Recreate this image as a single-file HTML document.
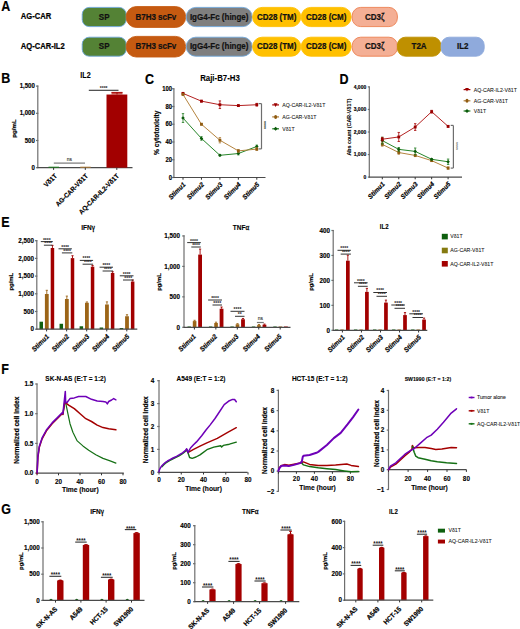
<!DOCTYPE html>
<html><head><meta charset="utf-8"><title>Figure</title>
<style>html,body{margin:0;padding:0;background:#fff;overflow:hidden;}svg{display:block;}text{font-family:"Liberation Sans", sans-serif;}</style>
</head><body>
<svg width="520" height="629" viewBox="0 0 520 629" font-family='"Liberation Sans", sans-serif'>
<rect x="0" y="0" width="520" height="629" fill="#fff"/>
<text x="1.30" y="11.00" font-size="14.88" text-anchor="start" font-weight="bold" fill="#000" stroke="#000" stroke-width="0.2" transform="translate(1.30 11.00) scale(0.84 1) translate(-1.30 -11.00)">A</text>
<text x="20.80" y="19.30" font-size="8.64" text-anchor="start" font-weight="bold" fill="#000" stroke="#000" stroke-width="0.22" transform="translate(20.80 19.30) scale(0.88 1) translate(-20.80 -19.30)">AG-CAR</text>
<text x="20.80" y="48.80" font-size="8.64" text-anchor="start" font-weight="bold" fill="#000" stroke="#000" stroke-width="0.22" transform="translate(20.80 48.80) scale(0.88 1) translate(-20.80 -48.80)">AQ-CAR-IL2</text>
<rect x="82.20" y="7.40" width="44.00" height="19.20" rx="7" ry="7" fill="#548235" stroke="#6FA8DC" stroke-width="0.9"/>
<text x="104.20" y="19.70" font-size="9.09" text-anchor="middle" font-weight="bold" fill="#111" stroke="#111" stroke-width="0.22" transform="translate(104.20 19.70) scale(0.88 1) translate(-104.20 -19.70)">SP</text>
<rect x="126.20" y="6.60" width="59.40" height="20.80" rx="10" ry="10" fill="#C55A11" stroke="#C55A11" stroke-width="0.9"/>
<text x="155.90" y="19.70" font-size="9.09" text-anchor="middle" font-weight="bold" fill="#111" stroke="#111" stroke-width="0.22" transform="translate(155.90 19.70) scale(0.88 1) translate(-155.90 -19.70)">B7H3 scFv</text>
<rect x="186.20" y="7.40" width="66.00" height="19.20" rx="9.5" ry="9.5" fill="#7F7F7F" stroke="#6FA8DC" stroke-width="0.9"/>
<text x="219.20" y="19.70" font-size="9.09" text-anchor="middle" font-weight="bold" fill="#111" stroke="#111" stroke-width="0.22" transform="translate(219.20 19.70) scale(0.88 1) translate(-219.20 -19.70)">IgG4-Fc (hinge)</text>
<rect x="252.60" y="7.40" width="48.20" height="19.20" rx="9.5" ry="9.5" fill="#FFC000" stroke="#FFC000" stroke-width="0.9"/>
<text x="276.70" y="19.70" font-size="9.09" text-anchor="middle" font-weight="bold" fill="#111" stroke="#111" stroke-width="0.22" transform="translate(276.70 19.70) scale(0.88 1) translate(-276.70 -19.70)">CD28 (TM)</text>
<rect x="301.20" y="7.40" width="50.00" height="19.20" rx="9.5" ry="9.5" fill="#FFC000" stroke="#FFC000" stroke-width="0.9"/>
<text x="326.20" y="19.70" font-size="9.09" text-anchor="middle" font-weight="bold" fill="#111" stroke="#111" stroke-width="0.22" transform="translate(326.20 19.70) scale(0.88 1) translate(-326.20 -19.70)">CD28 (CM)</text>
<rect x="352.20" y="7.40" width="45.20" height="19.20" rx="8.5" ry="8.5" fill="#F4AF95" stroke="#EC8050" stroke-width="0.9"/>
<text x="374.80" y="19.70" font-size="9.09" text-anchor="middle" font-weight="bold" fill="#111" stroke="#111" stroke-width="0.22" transform="translate(374.80 19.70) scale(0.88 1) translate(-374.80 -19.70)">CD3<tspan font-family="Liberation Serif" font-weight="normal" stroke-width="0.35" font-size="9.6">ζ</tspan></text>
<rect x="82.20" y="37.20" width="44.00" height="19.00" rx="7" ry="7" fill="#548235" stroke="#6FA8DC" stroke-width="0.9"/>
<text x="104.20" y="49.40" font-size="9.09" text-anchor="middle" font-weight="bold" fill="#111" stroke="#111" stroke-width="0.22" transform="translate(104.20 49.40) scale(0.88 1) translate(-104.20 -49.40)">SP</text>
<rect x="126.20" y="36.40" width="59.40" height="20.60" rx="10" ry="10" fill="#C55A11" stroke="#C55A11" stroke-width="0.9"/>
<text x="155.90" y="49.40" font-size="9.09" text-anchor="middle" font-weight="bold" fill="#111" stroke="#111" stroke-width="0.22" transform="translate(155.90 49.40) scale(0.88 1) translate(-155.90 -49.40)">B7H3 scFv</text>
<rect x="186.20" y="37.20" width="66.00" height="19.00" rx="9.5" ry="9.5" fill="#7F7F7F" stroke="#6FA8DC" stroke-width="0.9"/>
<text x="219.20" y="49.40" font-size="9.09" text-anchor="middle" font-weight="bold" fill="#111" stroke="#111" stroke-width="0.22" transform="translate(219.20 49.40) scale(0.88 1) translate(-219.20 -49.40)">IgG4-Fc (hinge)</text>
<rect x="252.60" y="37.20" width="48.20" height="19.00" rx="9.5" ry="9.5" fill="#FFC000" stroke="#FFC000" stroke-width="0.9"/>
<text x="276.70" y="49.40" font-size="9.09" text-anchor="middle" font-weight="bold" fill="#111" stroke="#111" stroke-width="0.22" transform="translate(276.70 49.40) scale(0.88 1) translate(-276.70 -49.40)">CD28 (TM)</text>
<rect x="301.20" y="37.20" width="50.00" height="19.00" rx="9.5" ry="9.5" fill="#FFC000" stroke="#FFC000" stroke-width="0.9"/>
<text x="326.20" y="49.40" font-size="9.09" text-anchor="middle" font-weight="bold" fill="#111" stroke="#111" stroke-width="0.22" transform="translate(326.20 49.40) scale(0.88 1) translate(-326.20 -49.40)">CD28 (CM)</text>
<rect x="352.20" y="37.20" width="45.20" height="19.00" rx="8.5" ry="8.5" fill="#F4AF95" stroke="#EC8050" stroke-width="0.9"/>
<text x="374.80" y="49.40" font-size="9.09" text-anchor="middle" font-weight="bold" fill="#111" stroke="#111" stroke-width="0.22" transform="translate(374.80 49.40) scale(0.88 1) translate(-374.80 -49.40)">CD3<tspan font-family="Liberation Serif" font-weight="normal" stroke-width="0.35" font-size="9.6">ζ</tspan></text>
<rect x="397.40" y="37.20" width="43.40" height="19.00" rx="8" ry="8" fill="#BF9000" stroke="#BF9000" stroke-width="0.9"/>
<text x="419.10" y="49.40" font-size="9.09" text-anchor="middle" font-weight="bold" fill="#111" stroke="#111" stroke-width="0.22" transform="translate(419.10 49.40) scale(0.88 1) translate(-419.10 -49.40)">T2A</text>
<rect x="441.20" y="37.20" width="43.00" height="19.00" rx="8" ry="8" fill="#8FAADC" stroke="#8FAADC" stroke-width="0.9"/>
<text x="462.70" y="49.40" font-size="9.09" text-anchor="middle" font-weight="bold" fill="#111" stroke="#111" stroke-width="0.22" transform="translate(462.70 49.40) scale(0.88 1) translate(-462.70 -49.40)">IL2</text>
<text x="1.30" y="83.50" font-size="14.88" text-anchor="start" font-weight="bold" fill="#000" stroke="#000" stroke-width="0.2" transform="translate(1.30 83.50) scale(0.84 1) translate(-1.30 -83.50)">B</text>
<text x="85.50" y="77.90" font-size="8.18" text-anchor="middle" font-weight="bold" fill="#000" stroke="#000" stroke-width="0.1" transform="translate(85.50 77.90) scale(0.88 1) translate(-85.50 -77.90)">IL2</text>
<line x1="37.80" y1="85.50" x2="37.80" y2="167.70" stroke="#6e6e6e" stroke-width="1.2"/>
<line x1="36.00" y1="167.70" x2="38.30" y2="167.70" stroke="#6e6e6e" stroke-width="1.2"/>
<text x="34.90" y="169.90" font-size="6.93" text-anchor="end" font-weight="bold" fill="#000" stroke="#000" stroke-width="0.16" transform="translate(34.90 169.90) scale(0.88 1) translate(-34.90 -169.90)">0</text>
<line x1="36.00" y1="140.50" x2="38.30" y2="140.50" stroke="#6e6e6e" stroke-width="1.2"/>
<text x="34.90" y="142.70" font-size="6.93" text-anchor="end" font-weight="bold" fill="#000" stroke="#000" stroke-width="0.16" transform="translate(34.90 142.70) scale(0.88 1) translate(-34.90 -142.70)">500</text>
<line x1="36.00" y1="113.30" x2="38.30" y2="113.30" stroke="#6e6e6e" stroke-width="1.2"/>
<text x="34.90" y="115.50" font-size="6.93" text-anchor="end" font-weight="bold" fill="#000" stroke="#000" stroke-width="0.16" transform="translate(34.90 115.50) scale(0.88 1) translate(-34.90 -115.50)">1,000</text>
<line x1="36.00" y1="86.10" x2="38.30" y2="86.10" stroke="#6e6e6e" stroke-width="1.2"/>
<text x="34.90" y="88.30" font-size="6.93" text-anchor="end" font-weight="bold" fill="#000" stroke="#000" stroke-width="0.16" transform="translate(34.90 88.30) scale(0.88 1) translate(-34.90 -88.30)">1,500</text>
<line x1="37.30" y1="167.70" x2="132.50" y2="167.70" stroke="#4a4a4a" stroke-width="1.2"/>
<rect x="48.50" y="166.70" width="10.50" height="1.10" fill="#1E7A1E"/>
<rect x="80.20" y="166.70" width="10.50" height="1.10" fill="#AC7B38"/>
<rect x="106.50" y="94.53" width="20.80" height="73.17" fill="#A20000"/>
<rect x="111.50" y="92.00" width="11.00" height="2.73" fill="#C8504A"/>
<line x1="111.50" y1="92.40" x2="122.50" y2="92.40" stroke="#A20000" stroke-width="0.8"/>
<line x1="117.00" y1="92.40" x2="117.00" y2="94.53" stroke="#A20000" stroke-width="0.9"/>
<line x1="88.80" y1="90.30" x2="118.50" y2="90.30" stroke="#333" stroke-width="1.1"/>
<text x="103.65" y="89.60" font-size="5.68" text-anchor="middle" font-weight="bold" fill="#222" transform="translate(103.65 89.60) scale(0.88 1) translate(-103.65 -89.60)">****</text>
<line x1="53.80" y1="163.10" x2="85.00" y2="163.10" stroke="#777" stroke-width="1.2"/>
<text x="69.40" y="160.90" font-size="5.68" text-anchor="middle" font-weight="normal" fill="#111" stroke="#111" stroke-width="0.08" transform="translate(69.40 160.90) scale(0.88 1) translate(-69.40 -160.90)">ns</text>
<line x1="53.60" y1="167.70" x2="53.60" y2="169.90" stroke="#333" stroke-width="1.0"/>
<line x1="85.30" y1="167.70" x2="85.30" y2="169.90" stroke="#333" stroke-width="1.0"/>
<line x1="116.80" y1="167.70" x2="116.80" y2="169.90" stroke="#333" stroke-width="1.0"/>
<text x="16.10" y="128.50" font-size="6.1" text-anchor="middle" font-weight="bold" fill="#000" stroke="#000" stroke-width="0.18" transform="translate(16.10 128.50) rotate(-90) translate(-16.10 -128.50)">pg/mL</text>
<text x="57.50" y="176.60" font-size="6.7" text-anchor="end" font-weight="bold" fill="#000" stroke="#000" stroke-width="0.2" transform="translate(57.50 176.60) rotate(-45) scale(0.94 1) translate(-57.50 -176.60)">Vδ1T</text>
<text x="88.50" y="176.60" font-size="6.7" text-anchor="end" font-weight="bold" fill="#000" stroke="#000" stroke-width="0.2" transform="translate(88.50 176.60) rotate(-45) scale(0.94 1) translate(-88.50 -176.60)">AG-CAR-Vδ1T</text>
<text x="119.50" y="176.60" font-size="6.7" text-anchor="end" font-weight="bold" fill="#000" stroke="#000" stroke-width="0.2" transform="translate(119.50 176.60) rotate(-45) scale(0.94 1) translate(-119.50 -176.60)">AQ-CAR-IL2-Vδ1T</text>
<text x="145.00" y="83.80" font-size="14.88" text-anchor="start" font-weight="bold" fill="#000" stroke="#000" stroke-width="0.2" transform="translate(145.00 83.80) scale(0.84 1) translate(-145.00 -83.80)">C</text>
<text x="220.00" y="81.50" font-size="8.92" text-anchor="middle" font-weight="bold" fill="#000" stroke="#000" stroke-width="0.1" transform="translate(220.00 81.50) scale(0.88 1) translate(-220.00 -81.50)">Raji-B7-H3</text>
<line x1="173.90" y1="88.50" x2="173.90" y2="177.50" stroke="#6e6e6e" stroke-width="1.2"/>
<line x1="172.10" y1="177.50" x2="174.40" y2="177.50" stroke="#6e6e6e" stroke-width="1.2"/>
<text x="172.00" y="179.62" font-size="6.7" text-anchor="end" font-weight="bold" fill="#000" stroke="#000" stroke-width="0.16" transform="translate(172.00 179.62) scale(0.88 1) translate(-172.00 -179.62)">0</text>
<line x1="172.10" y1="159.75" x2="174.40" y2="159.75" stroke="#6e6e6e" stroke-width="1.2"/>
<text x="172.00" y="161.87" font-size="6.7" text-anchor="end" font-weight="bold" fill="#000" stroke="#000" stroke-width="0.16" transform="translate(172.00 161.87) scale(0.88 1) translate(-172.00 -161.87)">20</text>
<line x1="172.10" y1="142.00" x2="174.40" y2="142.00" stroke="#6e6e6e" stroke-width="1.2"/>
<text x="172.00" y="144.12" font-size="6.7" text-anchor="end" font-weight="bold" fill="#000" stroke="#000" stroke-width="0.16" transform="translate(172.00 144.12) scale(0.88 1) translate(-172.00 -144.12)">40</text>
<line x1="172.10" y1="124.25" x2="174.40" y2="124.25" stroke="#6e6e6e" stroke-width="1.2"/>
<text x="172.00" y="126.37" font-size="6.7" text-anchor="end" font-weight="bold" fill="#000" stroke="#000" stroke-width="0.16" transform="translate(172.00 126.37) scale(0.88 1) translate(-172.00 -126.37)">60</text>
<line x1="172.10" y1="106.50" x2="174.40" y2="106.50" stroke="#6e6e6e" stroke-width="1.2"/>
<text x="172.00" y="108.62" font-size="6.7" text-anchor="end" font-weight="bold" fill="#000" stroke="#000" stroke-width="0.16" transform="translate(172.00 108.62) scale(0.88 1) translate(-172.00 -108.62)">80</text>
<line x1="172.10" y1="88.75" x2="174.40" y2="88.75" stroke="#6e6e6e" stroke-width="1.2"/>
<text x="172.00" y="90.87" font-size="6.7" text-anchor="end" font-weight="bold" fill="#000" stroke="#000" stroke-width="0.16" transform="translate(172.00 90.87) scale(0.88 1) translate(-172.00 -90.87)">100</text>
<line x1="173.40" y1="177.50" x2="265.50" y2="177.50" stroke="#4a4a4a" stroke-width="1.2"/>
<line x1="183.00" y1="177.50" x2="183.00" y2="179.70" stroke="#333" stroke-width="1.0"/>
<line x1="201.45" y1="177.50" x2="201.45" y2="179.70" stroke="#333" stroke-width="1.0"/>
<line x1="219.90" y1="177.50" x2="219.90" y2="179.70" stroke="#333" stroke-width="1.0"/>
<line x1="238.35" y1="177.50" x2="238.35" y2="179.70" stroke="#333" stroke-width="1.0"/>
<line x1="256.80" y1="177.50" x2="256.80" y2="179.70" stroke="#333" stroke-width="1.0"/>
<path d="M183.00,118.04 L201.45,138.45 L219.90,155.31 L238.35,153.54 L256.80,146.44" fill="none" stroke="#27862A" stroke-width="1.0" stroke-linejoin="round" stroke-linecap="round"/>
<line x1="183.00" y1="113.60" x2="183.00" y2="122.47" stroke="#1E7A1E" stroke-width="0.8"/>
<line x1="181.80" y1="113.60" x2="184.20" y2="113.60" stroke="#1E7A1E" stroke-width="0.8"/>
<line x1="181.80" y1="122.47" x2="184.20" y2="122.47" stroke="#1E7A1E" stroke-width="0.8"/>
<path d="M183.00,116.24 L184.80,118.04 L183.00,119.84 L181.20,118.04Z" fill="#0B5A0B"/>
<line x1="201.45" y1="136.67" x2="201.45" y2="140.22" stroke="#1E7A1E" stroke-width="0.8"/>
<line x1="200.25" y1="136.67" x2="202.65" y2="136.67" stroke="#1E7A1E" stroke-width="0.8"/>
<line x1="200.25" y1="140.22" x2="202.65" y2="140.22" stroke="#1E7A1E" stroke-width="0.8"/>
<path d="M201.45,136.65 L203.25,138.45 L201.45,140.25 L199.65,138.45Z" fill="#0B5A0B"/>
<line x1="219.90" y1="154.60" x2="219.90" y2="156.02" stroke="#1E7A1E" stroke-width="0.8"/>
<line x1="218.70" y1="154.60" x2="221.10" y2="154.60" stroke="#1E7A1E" stroke-width="0.8"/>
<line x1="218.70" y1="156.02" x2="221.10" y2="156.02" stroke="#1E7A1E" stroke-width="0.8"/>
<path d="M219.90,153.51 L221.70,155.31 L219.90,157.11 L218.10,155.31Z" fill="#0B5A0B"/>
<line x1="238.35" y1="152.21" x2="238.35" y2="154.87" stroke="#1E7A1E" stroke-width="0.8"/>
<line x1="237.15" y1="152.21" x2="239.55" y2="152.21" stroke="#1E7A1E" stroke-width="0.8"/>
<line x1="237.15" y1="154.87" x2="239.55" y2="154.87" stroke="#1E7A1E" stroke-width="0.8"/>
<path d="M238.35,151.74 L240.15,153.54 L238.35,155.34 L236.55,153.54Z" fill="#0B5A0B"/>
<line x1="256.80" y1="145.11" x2="256.80" y2="147.77" stroke="#1E7A1E" stroke-width="0.8"/>
<line x1="255.60" y1="145.11" x2="258.00" y2="145.11" stroke="#1E7A1E" stroke-width="0.8"/>
<line x1="255.60" y1="147.77" x2="258.00" y2="147.77" stroke="#1E7A1E" stroke-width="0.8"/>
<path d="M256.80,144.64 L258.60,146.44 L256.80,148.24 L255.00,146.44Z" fill="#0B5A0B"/>
<path d="M183.00,93.37 L201.45,101.17 L219.90,104.73 L238.35,105.61 L256.80,104.73" fill="none" stroke="#B42222" stroke-width="1.0" stroke-linejoin="round" stroke-linecap="round"/>
<line x1="183.00" y1="92.48" x2="183.00" y2="94.25" stroke="#A40000" stroke-width="0.8"/>
<line x1="181.80" y1="92.48" x2="184.20" y2="92.48" stroke="#A40000" stroke-width="0.8"/>
<line x1="181.80" y1="94.25" x2="184.20" y2="94.25" stroke="#A40000" stroke-width="0.8"/>
<rect x="181.60" y="91.97" width="2.80" height="2.80" fill="#9A0000"/>
<line x1="201.45" y1="100.29" x2="201.45" y2="102.06" stroke="#A40000" stroke-width="0.8"/>
<line x1="200.25" y1="100.29" x2="202.65" y2="100.29" stroke="#A40000" stroke-width="0.8"/>
<line x1="200.25" y1="102.06" x2="202.65" y2="102.06" stroke="#A40000" stroke-width="0.8"/>
<rect x="200.05" y="99.77" width="2.80" height="2.80" fill="#9A0000"/>
<line x1="219.90" y1="100.91" x2="219.90" y2="108.54" stroke="#A40000" stroke-width="0.8"/>
<line x1="218.70" y1="100.91" x2="221.10" y2="100.91" stroke="#A40000" stroke-width="0.8"/>
<line x1="218.70" y1="108.54" x2="221.10" y2="108.54" stroke="#A40000" stroke-width="0.8"/>
<rect x="218.50" y="103.33" width="2.80" height="2.80" fill="#9A0000"/>
<line x1="238.35" y1="104.72" x2="238.35" y2="106.50" stroke="#A40000" stroke-width="0.8"/>
<line x1="237.15" y1="104.72" x2="239.55" y2="104.72" stroke="#A40000" stroke-width="0.8"/>
<line x1="237.15" y1="106.50" x2="239.55" y2="106.50" stroke="#A40000" stroke-width="0.8"/>
<rect x="236.95" y="104.21" width="2.80" height="2.80" fill="#9A0000"/>
<line x1="256.80" y1="103.39" x2="256.80" y2="106.06" stroke="#A40000" stroke-width="0.8"/>
<line x1="255.60" y1="103.39" x2="258.00" y2="103.39" stroke="#A40000" stroke-width="0.8"/>
<line x1="255.60" y1="106.06" x2="258.00" y2="106.06" stroke="#A40000" stroke-width="0.8"/>
<rect x="255.40" y="103.33" width="2.80" height="2.80" fill="#9A0000"/>
<path d="M183.00,94.43 L201.45,124.25 L219.90,140.22 L238.35,150.88 L256.80,149.10" fill="none" stroke="#B5843F" stroke-width="1.0" stroke-linejoin="round" stroke-linecap="round"/>
<line x1="183.00" y1="93.54" x2="183.00" y2="95.32" stroke="#AC7B38" stroke-width="0.8"/>
<line x1="181.80" y1="93.54" x2="184.20" y2="93.54" stroke="#AC7B38" stroke-width="0.8"/>
<line x1="181.80" y1="95.32" x2="184.20" y2="95.32" stroke="#AC7B38" stroke-width="0.8"/>
<rect x="181.60" y="93.03" width="2.80" height="2.80" fill="#8F5B10"/>
<line x1="201.45" y1="123.36" x2="201.45" y2="125.14" stroke="#AC7B38" stroke-width="0.8"/>
<line x1="200.25" y1="123.36" x2="202.65" y2="123.36" stroke="#AC7B38" stroke-width="0.8"/>
<line x1="200.25" y1="125.14" x2="202.65" y2="125.14" stroke="#AC7B38" stroke-width="0.8"/>
<rect x="200.05" y="122.85" width="2.80" height="2.80" fill="#8F5B10"/>
<line x1="219.90" y1="137.56" x2="219.90" y2="142.89" stroke="#AC7B38" stroke-width="0.8"/>
<line x1="218.70" y1="137.56" x2="221.10" y2="137.56" stroke="#AC7B38" stroke-width="0.8"/>
<line x1="218.70" y1="142.89" x2="221.10" y2="142.89" stroke="#AC7B38" stroke-width="0.8"/>
<rect x="218.50" y="138.82" width="2.80" height="2.80" fill="#8F5B10"/>
<line x1="238.35" y1="149.54" x2="238.35" y2="152.21" stroke="#AC7B38" stroke-width="0.8"/>
<line x1="237.15" y1="149.54" x2="239.55" y2="149.54" stroke="#AC7B38" stroke-width="0.8"/>
<line x1="237.15" y1="152.21" x2="239.55" y2="152.21" stroke="#AC7B38" stroke-width="0.8"/>
<rect x="236.95" y="149.47" width="2.80" height="2.80" fill="#8F5B10"/>
<line x1="256.80" y1="147.77" x2="256.80" y2="150.43" stroke="#AC7B38" stroke-width="0.8"/>
<line x1="255.60" y1="147.77" x2="258.00" y2="147.77" stroke="#AC7B38" stroke-width="0.8"/>
<line x1="255.60" y1="150.43" x2="258.00" y2="150.43" stroke="#AC7B38" stroke-width="0.8"/>
<rect x="255.40" y="147.70" width="2.80" height="2.80" fill="#8F5B10"/>
<line x1="261.50" y1="103.60" x2="261.50" y2="148.90" stroke="#6e6e6e" stroke-width="1.2"/>
<line x1="258.60" y1="103.60" x2="261.50" y2="103.60" stroke="#6e6e6e" stroke-width="1.2"/>
<line x1="258.60" y1="148.90" x2="261.50" y2="148.90" stroke="#6e6e6e" stroke-width="1.2"/>
<text x="262.00" y="125.00" font-size="5.0" text-anchor="middle" font-weight="bold" fill="#222" transform="translate(262.00 125.00) rotate(90) translate(-262.00 -125.00)">****</text>
<text x="158.90" y="132.80" font-size="6.6" text-anchor="middle" font-weight="bold" fill="#000" stroke="#000" stroke-width="0.18" transform="translate(158.90 132.80) rotate(-90) translate(-158.90 -132.80)">% cytotoxicity</text>
<text x="186.00" y="185.10" font-size="6.7" text-anchor="end" font-weight="bold" fill="#000" font-style="italic" stroke="#000" stroke-width="0.2" transform="translate(186.00 185.10) rotate(-45) scale(0.94 1) translate(-186.00 -185.10)">Stimu1</text>
<text x="204.45" y="185.10" font-size="6.7" text-anchor="end" font-weight="bold" fill="#000" font-style="italic" stroke="#000" stroke-width="0.2" transform="translate(204.45 185.10) rotate(-45) scale(0.94 1) translate(-204.45 -185.10)">Stimu2</text>
<text x="222.90" y="185.10" font-size="6.7" text-anchor="end" font-weight="bold" fill="#000" font-style="italic" stroke="#000" stroke-width="0.2" transform="translate(222.90 185.10) rotate(-45) scale(0.94 1) translate(-222.90 -185.10)">Stimu3</text>
<text x="241.35" y="185.10" font-size="6.7" text-anchor="end" font-weight="bold" fill="#000" font-style="italic" stroke="#000" stroke-width="0.2" transform="translate(241.35 185.10) rotate(-45) scale(0.94 1) translate(-241.35 -185.10)">Stimu4</text>
<text x="259.80" y="185.10" font-size="6.7" text-anchor="end" font-weight="bold" fill="#000" font-style="italic" stroke="#000" stroke-width="0.2" transform="translate(259.80 185.10) rotate(-45) scale(0.94 1) translate(-259.80 -185.10)">Stimu5</text>
<line x1="272.20" y1="104.90" x2="279.00" y2="104.90" stroke="#A40000" stroke-width="1.2"/>
<path d="M275.60,106.90 L277.50,103.30 L273.70,103.30Z" fill="#9A0000"/>
<text x="282.20" y="106.90" font-size="5.91" text-anchor="start" font-weight="normal" fill="#111" stroke="#111" stroke-width="0.08" transform="translate(282.20 106.90) scale(0.88 1) translate(-282.20 -106.90)">AQ-CAR-IL2-Vδ1T</text>
<line x1="272.20" y1="116.90" x2="279.00" y2="116.90" stroke="#AC7B38" stroke-width="1.2"/>
<ellipse cx="275.60" cy="116.90" rx="1.5" ry="2.0" fill="#8F5B10"/>
<text x="282.20" y="118.90" font-size="5.91" text-anchor="start" font-weight="normal" fill="#111" stroke="#111" stroke-width="0.08" transform="translate(282.20 118.90) scale(0.88 1) translate(-282.20 -118.90)">AG-CAR-Vδ1T</text>
<line x1="272.20" y1="128.80" x2="279.00" y2="128.80" stroke="#1E7A1E" stroke-width="1.2"/>
<path d="M275.60,126.80 L277.60,128.80 L275.60,130.80 L273.60,128.80Z" fill="#0B5A0B"/>
<text x="282.20" y="130.80" font-size="5.91" text-anchor="start" font-weight="normal" fill="#111" stroke="#111" stroke-width="0.08" transform="translate(282.20 130.80) scale(0.88 1) translate(-282.20 -130.80)">Vδ1T</text>
<text x="339.60" y="83.80" font-size="14.88" text-anchor="start" font-weight="bold" fill="#000" stroke="#000" stroke-width="0.2" transform="translate(339.60 83.80) scale(0.84 1) translate(-339.60 -83.80)">D</text>
<line x1="369.30" y1="86.50" x2="369.30" y2="177.10" stroke="#6e6e6e" stroke-width="1.2"/>
<line x1="367.80" y1="177.10" x2="369.80" y2="177.10" stroke="#6e6e6e" stroke-width="1.2"/>
<text x="366.20" y="178.90" font-size="5.68" text-anchor="end" font-weight="bold" fill="#000" stroke="#000" stroke-width="0.16" transform="translate(366.20 178.90) scale(0.88 1) translate(-366.20 -178.90)">0</text>
<line x1="367.80" y1="154.55" x2="369.80" y2="154.55" stroke="#6e6e6e" stroke-width="1.2"/>
<text x="366.20" y="156.35" font-size="5.68" text-anchor="end" font-weight="bold" fill="#000" stroke="#000" stroke-width="0.16" transform="translate(366.20 156.35) scale(0.88 1) translate(-366.20 -156.35)">1,000</text>
<line x1="367.80" y1="132.00" x2="369.80" y2="132.00" stroke="#6e6e6e" stroke-width="1.2"/>
<text x="366.20" y="133.80" font-size="5.68" text-anchor="end" font-weight="bold" fill="#000" stroke="#000" stroke-width="0.16" transform="translate(366.20 133.80) scale(0.88 1) translate(-366.20 -133.80)">2,000</text>
<line x1="367.80" y1="109.45" x2="369.80" y2="109.45" stroke="#6e6e6e" stroke-width="1.2"/>
<text x="366.20" y="111.25" font-size="5.68" text-anchor="end" font-weight="bold" fill="#000" stroke="#000" stroke-width="0.16" transform="translate(366.20 111.25) scale(0.88 1) translate(-366.20 -111.25)">3,000</text>
<line x1="367.80" y1="86.90" x2="369.80" y2="86.90" stroke="#6e6e6e" stroke-width="1.2"/>
<text x="366.20" y="88.70" font-size="5.68" text-anchor="end" font-weight="bold" fill="#000" stroke="#000" stroke-width="0.16" transform="translate(366.20 88.70) scale(0.88 1) translate(-366.20 -88.70)">4,000</text>
<line x1="368.80" y1="177.10" x2="462.00" y2="177.10" stroke="#4a4a4a" stroke-width="1.2"/>
<line x1="382.30" y1="177.10" x2="382.30" y2="179.30" stroke="#333" stroke-width="1.0"/>
<line x1="398.75" y1="177.10" x2="398.75" y2="179.30" stroke="#333" stroke-width="1.0"/>
<line x1="415.20" y1="177.10" x2="415.20" y2="179.30" stroke="#333" stroke-width="1.0"/>
<line x1="431.65" y1="177.10" x2="431.65" y2="179.30" stroke="#333" stroke-width="1.0"/>
<line x1="448.10" y1="177.10" x2="448.10" y2="179.30" stroke="#333" stroke-width="1.0"/>
<path d="M382.30,144.40 L398.75,152.52 L415.20,155.45 L431.65,160.64 L448.10,168.08" fill="none" stroke="#B5843F" stroke-width="1.0" stroke-linejoin="round" stroke-linecap="round"/>
<line x1="382.30" y1="142.60" x2="382.30" y2="146.21" stroke="#AC7B38" stroke-width="0.8"/>
<line x1="381.10" y1="142.60" x2="383.50" y2="142.60" stroke="#AC7B38" stroke-width="0.8"/>
<line x1="381.10" y1="146.21" x2="383.50" y2="146.21" stroke="#AC7B38" stroke-width="0.8"/>
<rect x="380.90" y="143.00" width="2.80" height="2.80" fill="#8F5B10"/>
<line x1="398.75" y1="150.72" x2="398.75" y2="154.32" stroke="#AC7B38" stroke-width="0.8"/>
<line x1="397.55" y1="150.72" x2="399.95" y2="150.72" stroke="#AC7B38" stroke-width="0.8"/>
<line x1="397.55" y1="154.32" x2="399.95" y2="154.32" stroke="#AC7B38" stroke-width="0.8"/>
<rect x="397.35" y="151.12" width="2.80" height="2.80" fill="#8F5B10"/>
<line x1="415.20" y1="154.32" x2="415.20" y2="156.58" stroke="#AC7B38" stroke-width="0.8"/>
<line x1="414.00" y1="154.32" x2="416.40" y2="154.32" stroke="#AC7B38" stroke-width="0.8"/>
<line x1="414.00" y1="156.58" x2="416.40" y2="156.58" stroke="#AC7B38" stroke-width="0.8"/>
<rect x="413.80" y="154.05" width="2.80" height="2.80" fill="#8F5B10"/>
<line x1="431.65" y1="159.96" x2="431.65" y2="161.31" stroke="#AC7B38" stroke-width="0.8"/>
<line x1="430.45" y1="159.96" x2="432.85" y2="159.96" stroke="#AC7B38" stroke-width="0.8"/>
<line x1="430.45" y1="161.31" x2="432.85" y2="161.31" stroke="#AC7B38" stroke-width="0.8"/>
<rect x="430.25" y="159.24" width="2.80" height="2.80" fill="#8F5B10"/>
<line x1="448.10" y1="166.95" x2="448.10" y2="169.21" stroke="#AC7B38" stroke-width="0.8"/>
<line x1="446.90" y1="166.95" x2="449.30" y2="166.95" stroke="#AC7B38" stroke-width="0.8"/>
<line x1="446.90" y1="169.21" x2="449.30" y2="169.21" stroke="#AC7B38" stroke-width="0.8"/>
<rect x="446.70" y="166.68" width="2.80" height="2.80" fill="#8F5B10"/>
<path d="M382.30,140.57 L398.75,149.36 L415.20,151.39 L431.65,159.29 L448.10,161.77" fill="none" stroke="#27862A" stroke-width="1.0" stroke-linejoin="round" stroke-linecap="round"/>
<line x1="382.30" y1="137.19" x2="382.30" y2="143.95" stroke="#1E7A1E" stroke-width="0.8"/>
<line x1="381.10" y1="137.19" x2="383.50" y2="137.19" stroke="#1E7A1E" stroke-width="0.8"/>
<line x1="381.10" y1="143.95" x2="383.50" y2="143.95" stroke="#1E7A1E" stroke-width="0.8"/>
<path d="M382.30,138.77 L384.10,140.57 L382.30,142.37 L380.50,140.57Z" fill="#0B5A0B"/>
<line x1="398.75" y1="147.56" x2="398.75" y2="151.17" stroke="#1E7A1E" stroke-width="0.8"/>
<line x1="397.55" y1="147.56" x2="399.95" y2="147.56" stroke="#1E7A1E" stroke-width="0.8"/>
<line x1="397.55" y1="151.17" x2="399.95" y2="151.17" stroke="#1E7A1E" stroke-width="0.8"/>
<path d="M398.75,147.56 L400.55,149.36 L398.75,151.16 L396.95,149.36Z" fill="#0B5A0B"/>
<line x1="415.20" y1="148.01" x2="415.20" y2="154.78" stroke="#1E7A1E" stroke-width="0.8"/>
<line x1="414.00" y1="148.01" x2="416.40" y2="148.01" stroke="#1E7A1E" stroke-width="0.8"/>
<line x1="414.00" y1="154.78" x2="416.40" y2="154.78" stroke="#1E7A1E" stroke-width="0.8"/>
<path d="M415.20,149.59 L417.00,151.39 L415.20,153.19 L413.40,151.39Z" fill="#0B5A0B"/>
<line x1="431.65" y1="158.61" x2="431.65" y2="159.96" stroke="#1E7A1E" stroke-width="0.8"/>
<line x1="430.45" y1="158.61" x2="432.85" y2="158.61" stroke="#1E7A1E" stroke-width="0.8"/>
<line x1="430.45" y1="159.96" x2="432.85" y2="159.96" stroke="#1E7A1E" stroke-width="0.8"/>
<path d="M431.65,157.49 L433.45,159.29 L431.65,161.09 L429.85,159.29Z" fill="#0B5A0B"/>
<line x1="448.10" y1="159.06" x2="448.10" y2="164.47" stroke="#1E7A1E" stroke-width="0.8"/>
<line x1="446.90" y1="159.06" x2="449.30" y2="159.06" stroke="#1E7A1E" stroke-width="0.8"/>
<line x1="446.90" y1="164.47" x2="449.30" y2="164.47" stroke="#1E7A1E" stroke-width="0.8"/>
<path d="M448.10,159.97 L449.90,161.77 L448.10,163.57 L446.30,161.77Z" fill="#0B5A0B"/>
<path d="M382.30,139.22 L398.75,136.96 L415.20,127.04 L431.65,111.70 L448.10,126.36" fill="none" stroke="#B42222" stroke-width="1.0" stroke-linejoin="round" stroke-linecap="round"/>
<line x1="382.30" y1="137.41" x2="382.30" y2="141.02" stroke="#A40000" stroke-width="0.8"/>
<line x1="381.10" y1="137.41" x2="383.50" y2="137.41" stroke="#A40000" stroke-width="0.8"/>
<line x1="381.10" y1="141.02" x2="383.50" y2="141.02" stroke="#A40000" stroke-width="0.8"/>
<rect x="380.90" y="137.82" width="2.80" height="2.80" fill="#9A0000"/>
<line x1="398.75" y1="132.45" x2="398.75" y2="141.47" stroke="#A40000" stroke-width="0.8"/>
<line x1="397.55" y1="132.45" x2="399.95" y2="132.45" stroke="#A40000" stroke-width="0.8"/>
<line x1="397.55" y1="141.47" x2="399.95" y2="141.47" stroke="#A40000" stroke-width="0.8"/>
<rect x="397.35" y="135.56" width="2.80" height="2.80" fill="#9A0000"/>
<line x1="415.20" y1="123.66" x2="415.20" y2="130.42" stroke="#A40000" stroke-width="0.8"/>
<line x1="414.00" y1="123.66" x2="416.40" y2="123.66" stroke="#A40000" stroke-width="0.8"/>
<line x1="414.00" y1="130.42" x2="416.40" y2="130.42" stroke="#A40000" stroke-width="0.8"/>
<rect x="413.80" y="125.64" width="2.80" height="2.80" fill="#9A0000"/>
<line x1="431.65" y1="110.35" x2="431.65" y2="113.06" stroke="#A40000" stroke-width="0.8"/>
<line x1="430.45" y1="110.35" x2="432.85" y2="110.35" stroke="#A40000" stroke-width="0.8"/>
<line x1="430.45" y1="113.06" x2="432.85" y2="113.06" stroke="#A40000" stroke-width="0.8"/>
<rect x="430.25" y="110.30" width="2.80" height="2.80" fill="#9A0000"/>
<line x1="448.10" y1="125.46" x2="448.10" y2="127.26" stroke="#A40000" stroke-width="0.8"/>
<line x1="446.90" y1="125.46" x2="449.30" y2="125.46" stroke="#A40000" stroke-width="0.8"/>
<line x1="446.90" y1="127.26" x2="449.30" y2="127.26" stroke="#A40000" stroke-width="0.8"/>
<rect x="446.70" y="124.96" width="2.80" height="2.80" fill="#9A0000"/>
<line x1="453.40" y1="125.40" x2="453.40" y2="168.10" stroke="#6e6e6e" stroke-width="1.2"/>
<line x1="450.70" y1="125.40" x2="453.40" y2="125.40" stroke="#6e6e6e" stroke-width="1.2"/>
<line x1="450.70" y1="168.10" x2="453.40" y2="168.10" stroke="#6e6e6e" stroke-width="1.2"/>
<text x="454.00" y="146.00" font-size="5.0" text-anchor="middle" font-weight="normal" fill="#555" transform="translate(454.00 146.00) rotate(90) translate(-454.00 -146.00)">****</text>
<text x="350.60" y="127.00" font-size="5.3" text-anchor="middle" font-weight="bold" fill="#000" stroke="#000" stroke-width="0.08" transform="translate(350.60 127.00) rotate(-90) translate(-350.60 -127.00)">Abs count (CAR-Vδ1T)</text>
<text x="385.30" y="184.60" font-size="6.7" text-anchor="end" font-weight="bold" fill="#000" font-style="italic" stroke="#000" stroke-width="0.2" transform="translate(385.30 184.60) rotate(-45) scale(0.94 1) translate(-385.30 -184.60)">Stimu1</text>
<text x="401.75" y="184.60" font-size="6.7" text-anchor="end" font-weight="bold" fill="#000" font-style="italic" stroke="#000" stroke-width="0.2" transform="translate(401.75 184.60) rotate(-45) scale(0.94 1) translate(-401.75 -184.60)">Stimu2</text>
<text x="418.20" y="184.60" font-size="6.7" text-anchor="end" font-weight="bold" fill="#000" font-style="italic" stroke="#000" stroke-width="0.2" transform="translate(418.20 184.60) rotate(-45) scale(0.94 1) translate(-418.20 -184.60)">Stimu3</text>
<text x="434.65" y="184.60" font-size="6.7" text-anchor="end" font-weight="bold" fill="#000" font-style="italic" stroke="#000" stroke-width="0.2" transform="translate(434.65 184.60) rotate(-45) scale(0.94 1) translate(-434.65 -184.60)">Stimu4</text>
<text x="451.10" y="184.60" font-size="6.7" text-anchor="end" font-weight="bold" fill="#000" font-style="italic" stroke="#000" stroke-width="0.2" transform="translate(451.10 184.60) rotate(-45) scale(0.94 1) translate(-451.10 -184.60)">Stimu5</text>
<line x1="463.60" y1="89.60" x2="470.40" y2="89.60" stroke="#A40000" stroke-width="1.2"/>
<path d="M467.00,91.60 L468.90,88.00 L465.10,88.00Z" fill="#9A0000"/>
<text x="473.70" y="91.60" font-size="5.91" text-anchor="start" font-weight="normal" fill="#111" stroke="#111" stroke-width="0.08" transform="translate(473.70 91.60) scale(0.88 1) translate(-473.70 -91.60)">AQ-CAR-IL2-Vδ1T</text>
<line x1="463.60" y1="100.80" x2="470.40" y2="100.80" stroke="#AC7B38" stroke-width="1.2"/>
<ellipse cx="467.00" cy="100.80" rx="1.5" ry="2.0" fill="#8F5B10"/>
<text x="473.70" y="102.80" font-size="5.91" text-anchor="start" font-weight="normal" fill="#111" stroke="#111" stroke-width="0.08" transform="translate(473.70 102.80) scale(0.88 1) translate(-473.70 -102.80)">AG-CAR-Vδ1T</text>
<line x1="463.60" y1="111.00" x2="470.40" y2="111.00" stroke="#1E7A1E" stroke-width="1.2"/>
<path d="M467.00,109.00 L469.00,111.00 L467.00,113.00 L465.00,111.00Z" fill="#0B5A0B"/>
<text x="473.70" y="113.00" font-size="5.91" text-anchor="start" font-weight="normal" fill="#111" stroke="#111" stroke-width="0.08" transform="translate(473.70 113.00) scale(0.88 1) translate(-473.70 -113.00)">Vδ1T</text>
<text x="1.30" y="227.40" font-size="14.88" text-anchor="start" font-weight="bold" fill="#000" stroke="#000" stroke-width="0.2" transform="translate(1.30 227.40) scale(0.84 1) translate(-1.30 -227.40)">E</text>
<line x1="36.80" y1="240.10" x2="36.80" y2="329.20" stroke="#6e6e6e" stroke-width="1.2"/>
<line x1="35.00" y1="329.20" x2="37.30" y2="329.20" stroke="#6e6e6e" stroke-width="1.2"/>
<text x="34.00" y="331.47" font-size="7.16" text-anchor="end" font-weight="bold" fill="#000" stroke="#000" stroke-width="0.16" transform="translate(34.00 331.47) scale(0.88 1) translate(-34.00 -331.47)">0</text>
<line x1="35.00" y1="311.50" x2="37.30" y2="311.50" stroke="#6e6e6e" stroke-width="1.2"/>
<text x="34.00" y="313.77" font-size="7.16" text-anchor="end" font-weight="bold" fill="#000" stroke="#000" stroke-width="0.16" transform="translate(34.00 313.77) scale(0.88 1) translate(-34.00 -313.77)">500</text>
<line x1="35.00" y1="293.80" x2="37.30" y2="293.80" stroke="#6e6e6e" stroke-width="1.2"/>
<text x="34.00" y="296.07" font-size="7.16" text-anchor="end" font-weight="bold" fill="#000" stroke="#000" stroke-width="0.16" transform="translate(34.00 296.07) scale(0.88 1) translate(-34.00 -296.07)">1,000</text>
<line x1="35.00" y1="276.10" x2="37.30" y2="276.10" stroke="#6e6e6e" stroke-width="1.2"/>
<text x="34.00" y="278.37" font-size="7.16" text-anchor="end" font-weight="bold" fill="#000" stroke="#000" stroke-width="0.16" transform="translate(34.00 278.37) scale(0.88 1) translate(-34.00 -278.37)">1,500</text>
<line x1="35.00" y1="258.40" x2="37.30" y2="258.40" stroke="#6e6e6e" stroke-width="1.2"/>
<text x="34.00" y="260.67" font-size="7.16" text-anchor="end" font-weight="bold" fill="#000" stroke="#000" stroke-width="0.16" transform="translate(34.00 260.67) scale(0.88 1) translate(-34.00 -260.67)">2,000</text>
<line x1="35.00" y1="240.70" x2="37.30" y2="240.70" stroke="#6e6e6e" stroke-width="1.2"/>
<text x="34.00" y="242.97" font-size="7.16" text-anchor="end" font-weight="bold" fill="#000" stroke="#000" stroke-width="0.16" transform="translate(34.00 242.97) scale(0.88 1) translate(-34.00 -242.97)">2,500</text>
<rect x="39.50" y="321.70" width="3.50" height="7.50" fill="#0F600F"/>
<rect x="44.90" y="294.01" width="3.80" height="35.19" fill="#9C6518"/>
<line x1="46.80" y1="294.01" x2="46.80" y2="290.31" stroke="#9C6518" stroke-width="0.9"/>
<line x1="45.70" y1="290.31" x2="47.90" y2="290.31" stroke="#9C6518" stroke-width="0.9"/>
<rect x="50.70" y="247.99" width="3.50" height="81.21" fill="#A20000"/>
<line x1="52.45" y1="247.99" x2="52.45" y2="245.39" stroke="#A20000" stroke-width="0.9"/>
<line x1="51.35" y1="245.39" x2="53.55" y2="245.39" stroke="#A20000" stroke-width="0.9"/>
<rect x="59.55" y="323.78" width="3.50" height="5.42" fill="#0F600F"/>
<rect x="64.95" y="299.00" width="3.80" height="30.20" fill="#9C6518"/>
<line x1="66.85" y1="299.00" x2="66.85" y2="296.10" stroke="#9C6518" stroke-width="0.9"/>
<line x1="65.75" y1="296.10" x2="67.95" y2="296.10" stroke="#9C6518" stroke-width="0.9"/>
<rect x="70.75" y="258.12" width="3.50" height="71.08" fill="#A20000"/>
<line x1="72.50" y1="258.12" x2="72.50" y2="255.72" stroke="#A20000" stroke-width="0.9"/>
<line x1="71.40" y1="255.72" x2="73.60" y2="255.72" stroke="#A20000" stroke-width="0.9"/>
<rect x="79.60" y="326.26" width="3.50" height="2.94" fill="#0F600F"/>
<rect x="85.00" y="302.76" width="3.80" height="26.44" fill="#9C6518"/>
<line x1="86.90" y1="302.76" x2="86.90" y2="301.96" stroke="#9C6518" stroke-width="0.9"/>
<line x1="85.80" y1="301.96" x2="88.00" y2="301.96" stroke="#9C6518" stroke-width="0.9"/>
<rect x="90.80" y="266.68" width="3.50" height="62.52" fill="#A20000"/>
<line x1="92.55" y1="266.68" x2="92.55" y2="265.48" stroke="#A20000" stroke-width="0.9"/>
<line x1="91.45" y1="265.48" x2="93.65" y2="265.48" stroke="#A20000" stroke-width="0.9"/>
<rect x="99.65" y="327.50" width="3.50" height="1.70" fill="#0F600F"/>
<rect x="105.05" y="304.49" width="3.80" height="24.71" fill="#9C6518"/>
<line x1="106.95" y1="304.49" x2="106.95" y2="301.89" stroke="#9C6518" stroke-width="0.9"/>
<line x1="105.85" y1="301.89" x2="108.05" y2="301.89" stroke="#9C6518" stroke-width="0.9"/>
<rect x="110.85" y="272.98" width="3.50" height="56.22" fill="#A20000"/>
<line x1="112.60" y1="272.98" x2="112.60" y2="271.68" stroke="#A20000" stroke-width="0.9"/>
<line x1="111.50" y1="271.68" x2="113.70" y2="271.68" stroke="#A20000" stroke-width="0.9"/>
<rect x="119.70" y="328.00" width="3.50" height="1.20" fill="#0F600F"/>
<rect x="125.10" y="316.24" width="3.80" height="12.96" fill="#9C6518"/>
<line x1="127.00" y1="316.24" x2="127.00" y2="314.74" stroke="#9C6518" stroke-width="0.9"/>
<line x1="125.90" y1="314.74" x2="128.10" y2="314.74" stroke="#9C6518" stroke-width="0.9"/>
<rect x="130.90" y="281.52" width="3.50" height="47.68" fill="#A20000"/>
<line x1="132.65" y1="281.52" x2="132.65" y2="280.02" stroke="#A20000" stroke-width="0.9"/>
<line x1="131.55" y1="280.02" x2="133.75" y2="280.02" stroke="#A20000" stroke-width="0.9"/>
<line x1="36.30" y1="329.20" x2="137.30" y2="329.20" stroke="#4a4a4a" stroke-width="1.2"/>
<line x1="40.80" y1="241.60" x2="52.80" y2="241.60" stroke="#333" stroke-width="1.0"/>
<text x="46.80" y="241.60" font-size="5.68" text-anchor="middle" font-weight="bold" fill="#222" transform="translate(46.80 241.60) scale(0.88 1) translate(-46.80 -241.60)">****</text>
<line x1="43.90" y1="245.20" x2="52.40" y2="245.20" stroke="#333" stroke-width="1.0"/>
<text x="48.15" y="245.20" font-size="5.68" text-anchor="middle" font-weight="bold" fill="#222" transform="translate(48.15 245.20) scale(0.88 1) translate(-48.15 -245.20)">****</text>
<line x1="58.50" y1="248.80" x2="71.90" y2="248.80" stroke="#333" stroke-width="1.0"/>
<text x="65.20" y="248.80" font-size="5.68" text-anchor="middle" font-weight="bold" fill="#222" transform="translate(65.20 248.80) scale(0.88 1) translate(-65.20 -248.80)">****</text>
<line x1="61.90" y1="252.90" x2="72.30" y2="252.90" stroke="#333" stroke-width="1.0"/>
<text x="67.10" y="252.90" font-size="5.68" text-anchor="middle" font-weight="bold" fill="#222" transform="translate(67.10 252.90) scale(0.88 1) translate(-67.10 -252.90)">****</text>
<line x1="79.80" y1="260.40" x2="93.10" y2="260.40" stroke="#333" stroke-width="1.0"/>
<text x="86.45" y="260.40" font-size="5.68" text-anchor="middle" font-weight="bold" fill="#222" transform="translate(86.45 260.40) scale(0.88 1) translate(-86.45 -260.40)">****</text>
<line x1="82.60" y1="264.20" x2="93.10" y2="264.20" stroke="#333" stroke-width="1.0"/>
<text x="87.85" y="264.20" font-size="5.68" text-anchor="middle" font-weight="bold" fill="#222" transform="translate(87.85 264.20) scale(0.88 1) translate(-87.85 -264.20)">****</text>
<line x1="99.60" y1="267.20" x2="113.00" y2="267.20" stroke="#333" stroke-width="1.0"/>
<text x="106.30" y="267.20" font-size="5.68" text-anchor="middle" font-weight="bold" fill="#222" transform="translate(106.30 267.20) scale(0.88 1) translate(-106.30 -267.20)">****</text>
<line x1="102.60" y1="271.00" x2="113.00" y2="271.00" stroke="#333" stroke-width="1.0"/>
<text x="107.80" y="271.00" font-size="5.68" text-anchor="middle" font-weight="bold" fill="#222" transform="translate(107.80 271.00) scale(0.88 1) translate(-107.80 -271.00)">****</text>
<line x1="119.80" y1="275.80" x2="133.50" y2="275.80" stroke="#333" stroke-width="1.0"/>
<text x="126.65" y="275.80" font-size="5.68" text-anchor="middle" font-weight="bold" fill="#222" transform="translate(126.65 275.80) scale(0.88 1) translate(-126.65 -275.80)">****</text>
<line x1="123.00" y1="280.00" x2="133.50" y2="280.00" stroke="#333" stroke-width="1.0"/>
<text x="128.25" y="280.00" font-size="5.68" text-anchor="middle" font-weight="bold" fill="#222" transform="translate(128.25 280.00) scale(0.88 1) translate(-128.25 -280.00)">****</text>
<line x1="46.60" y1="329.20" x2="46.60" y2="331.40" stroke="#333" stroke-width="1.0"/>
<text x="49.60" y="337.00" font-size="6.81" text-anchor="end" font-weight="bold" fill="#000" font-style="italic" stroke="#000" stroke-width="0.2" transform="translate(49.60 337.00) rotate(-45) scale(0.94 1) translate(-49.60 -337.00)">Stimu1</text>
<line x1="66.65" y1="329.20" x2="66.65" y2="331.40" stroke="#333" stroke-width="1.0"/>
<text x="69.65" y="337.00" font-size="6.81" text-anchor="end" font-weight="bold" fill="#000" font-style="italic" stroke="#000" stroke-width="0.2" transform="translate(69.65 337.00) rotate(-45) scale(0.94 1) translate(-69.65 -337.00)">Stimu2</text>
<line x1="86.70" y1="329.20" x2="86.70" y2="331.40" stroke="#333" stroke-width="1.0"/>
<text x="89.70" y="337.00" font-size="6.81" text-anchor="end" font-weight="bold" fill="#000" font-style="italic" stroke="#000" stroke-width="0.2" transform="translate(89.70 337.00) rotate(-45) scale(0.94 1) translate(-89.70 -337.00)">Stimu3</text>
<line x1="106.75" y1="329.20" x2="106.75" y2="331.40" stroke="#333" stroke-width="1.0"/>
<text x="109.75" y="337.00" font-size="6.81" text-anchor="end" font-weight="bold" fill="#000" font-style="italic" stroke="#000" stroke-width="0.2" transform="translate(109.75 337.00) rotate(-45) scale(0.94 1) translate(-109.75 -337.00)">Stimu4</text>
<line x1="126.80" y1="329.20" x2="126.80" y2="331.40" stroke="#333" stroke-width="1.0"/>
<text x="129.80" y="337.00" font-size="6.81" text-anchor="end" font-weight="bold" fill="#000" font-style="italic" stroke="#000" stroke-width="0.2" transform="translate(129.80 337.00) rotate(-45) scale(0.94 1) translate(-129.80 -337.00)">Stimu5</text>
<text x="88.00" y="229.80" font-size="7.39" text-anchor="middle" font-weight="bold" fill="#000" stroke="#000" stroke-width="0.1" transform="translate(88.00 229.80) scale(0.88 1) translate(-88.00 -229.80)">IFN<tspan font-weight="normal" font-family="Liberation Serif" stroke-width="0.3" font-size="8.13">γ</tspan></text>
<text x="13.20" y="281.70" font-size="5.9" text-anchor="middle" font-weight="bold" fill="#000" stroke="#000" stroke-width="0.18" transform="translate(13.20 281.70) rotate(-90) translate(-13.20 -281.70)">pg/mL</text>
<line x1="184.00" y1="235.35" x2="184.00" y2="327.30" stroke="#6e6e6e" stroke-width="1.2"/>
<line x1="182.20" y1="327.30" x2="184.50" y2="327.30" stroke="#6e6e6e" stroke-width="1.2"/>
<text x="179.90" y="329.57" font-size="7.16" text-anchor="end" font-weight="bold" fill="#000" stroke="#000" stroke-width="0.16" transform="translate(179.90 329.57) scale(0.88 1) translate(-179.90 -329.57)">0</text>
<line x1="182.20" y1="296.85" x2="184.50" y2="296.85" stroke="#6e6e6e" stroke-width="1.2"/>
<text x="179.90" y="299.12" font-size="7.16" text-anchor="end" font-weight="bold" fill="#000" stroke="#000" stroke-width="0.16" transform="translate(179.90 299.12) scale(0.88 1) translate(-179.90 -299.12)">500</text>
<line x1="182.20" y1="266.40" x2="184.50" y2="266.40" stroke="#6e6e6e" stroke-width="1.2"/>
<text x="179.90" y="268.67" font-size="7.16" text-anchor="end" font-weight="bold" fill="#000" stroke="#000" stroke-width="0.16" transform="translate(179.90 268.67) scale(0.88 1) translate(-179.90 -268.67)">1,000</text>
<line x1="182.20" y1="235.95" x2="184.50" y2="235.95" stroke="#6e6e6e" stroke-width="1.2"/>
<text x="179.90" y="238.22" font-size="7.16" text-anchor="end" font-weight="bold" fill="#000" stroke="#000" stroke-width="0.16" transform="translate(179.90 238.22) scale(0.88 1) translate(-179.90 -238.22)">1,500</text>
<rect x="187.50" y="326.50" width="3.40" height="0.80" fill="#0F600F"/>
<rect x="192.80" y="321.09" width="3.60" height="6.21" fill="#9C6518"/>
<line x1="194.60" y1="321.09" x2="194.60" y2="320.29" stroke="#9C6518" stroke-width="0.9"/>
<line x1="193.50" y1="320.29" x2="195.70" y2="320.29" stroke="#9C6518" stroke-width="0.9"/>
<rect x="198.20" y="254.59" width="3.80" height="72.71" fill="#A20000"/>
<line x1="200.10" y1="254.59" x2="200.10" y2="249.09" stroke="#A20000" stroke-width="0.9"/>
<line x1="199.00" y1="249.09" x2="201.20" y2="249.09" stroke="#A20000" stroke-width="0.9"/>
<rect x="208.95" y="326.50" width="3.40" height="0.80" fill="#0F600F"/>
<rect x="214.25" y="322.98" width="3.60" height="4.32" fill="#9C6518"/>
<line x1="216.05" y1="322.98" x2="216.05" y2="322.18" stroke="#9C6518" stroke-width="0.9"/>
<line x1="214.95" y1="322.18" x2="217.15" y2="322.18" stroke="#9C6518" stroke-width="0.9"/>
<rect x="219.65" y="308.73" width="3.80" height="18.57" fill="#A20000"/>
<line x1="221.55" y1="308.73" x2="221.55" y2="307.03" stroke="#A20000" stroke-width="0.9"/>
<line x1="220.45" y1="307.03" x2="222.65" y2="307.03" stroke="#A20000" stroke-width="0.9"/>
<rect x="230.40" y="326.50" width="3.40" height="0.80" fill="#0F600F"/>
<rect x="235.70" y="324.25" width="3.60" height="3.04" fill="#9C6518"/>
<line x1="237.50" y1="324.25" x2="237.50" y2="323.65" stroke="#9C6518" stroke-width="0.9"/>
<line x1="236.40" y1="323.65" x2="238.60" y2="323.65" stroke="#9C6518" stroke-width="0.9"/>
<rect x="241.10" y="319.26" width="3.80" height="8.04" fill="#A20000"/>
<line x1="243.00" y1="319.26" x2="243.00" y2="318.46" stroke="#A20000" stroke-width="0.9"/>
<line x1="241.90" y1="318.46" x2="244.10" y2="318.46" stroke="#A20000" stroke-width="0.9"/>
<rect x="251.85" y="326.50" width="3.40" height="0.80" fill="#0F600F"/>
<rect x="257.15" y="325.11" width="3.60" height="2.19" fill="#9C6518"/>
<line x1="258.95" y1="325.11" x2="258.95" y2="324.51" stroke="#9C6518" stroke-width="0.9"/>
<line x1="257.85" y1="324.51" x2="260.05" y2="324.51" stroke="#9C6518" stroke-width="0.9"/>
<rect x="262.55" y="324.68" width="3.80" height="2.62" fill="#A20000"/>
<line x1="264.45" y1="324.68" x2="264.45" y2="324.08" stroke="#A20000" stroke-width="0.9"/>
<line x1="263.35" y1="324.08" x2="265.55" y2="324.08" stroke="#A20000" stroke-width="0.9"/>
<rect x="273.30" y="326.50" width="3.40" height="0.80" fill="#0F600F"/>
<rect x="278.60" y="326.50" width="3.60" height="0.80" fill="#9C6518"/>
<rect x="284.00" y="326.50" width="3.80" height="0.80" fill="#A20000"/>
<line x1="183.50" y1="327.30" x2="290.50" y2="327.30" stroke="#4a4a4a" stroke-width="1.2"/>
<line x1="187.20" y1="242.60" x2="200.80" y2="242.60" stroke="#333" stroke-width="1.0"/>
<text x="194.00" y="242.60" font-size="5.68" text-anchor="middle" font-weight="bold" fill="#222" transform="translate(194.00 242.60) scale(0.88 1) translate(-194.00 -242.60)">****</text>
<line x1="191.30" y1="247.00" x2="200.80" y2="247.00" stroke="#333" stroke-width="1.0"/>
<text x="196.05" y="247.00" font-size="5.68" text-anchor="middle" font-weight="bold" fill="#222" transform="translate(196.05 247.00) scale(0.88 1) translate(-196.05 -247.00)">****</text>
<line x1="208.10" y1="300.00" x2="222.00" y2="300.00" stroke="#333" stroke-width="1.0"/>
<text x="215.05" y="300.00" font-size="5.68" text-anchor="middle" font-weight="bold" fill="#222" transform="translate(215.05 300.00) scale(0.88 1) translate(-215.05 -300.00)">****</text>
<line x1="212.50" y1="305.00" x2="222.00" y2="305.00" stroke="#333" stroke-width="1.0"/>
<text x="217.25" y="305.00" font-size="5.68" text-anchor="middle" font-weight="bold" fill="#222" transform="translate(217.25 305.00) scale(0.88 1) translate(-217.25 -305.00)">****</text>
<line x1="230.50" y1="311.30" x2="244.50" y2="311.30" stroke="#333" stroke-width="1.0"/>
<text x="237.50" y="311.30" font-size="5.68" text-anchor="middle" font-weight="bold" fill="#222" transform="translate(237.50 311.30) scale(0.88 1) translate(-237.50 -311.30)">****</text>
<line x1="235.00" y1="316.30" x2="244.50" y2="316.30" stroke="#333" stroke-width="1.0"/>
<text x="239.75" y="316.30" font-size="5.68" text-anchor="middle" font-weight="bold" fill="#222" transform="translate(239.75 316.30) scale(0.88 1) translate(-239.75 -316.30)">**</text>
<line x1="194.40" y1="327.30" x2="194.40" y2="329.50" stroke="#333" stroke-width="1.0"/>
<text x="196.20" y="337.00" font-size="6.81" text-anchor="end" font-weight="bold" fill="#000" font-style="italic" stroke="#000" stroke-width="0.2" transform="translate(196.20 337.00) rotate(-45) scale(0.94 1) translate(-196.20 -337.00)">Stimu1</text>
<line x1="215.85" y1="327.30" x2="215.85" y2="329.50" stroke="#333" stroke-width="1.0"/>
<text x="217.65" y="337.00" font-size="6.81" text-anchor="end" font-weight="bold" fill="#000" font-style="italic" stroke="#000" stroke-width="0.2" transform="translate(217.65 337.00) rotate(-45) scale(0.94 1) translate(-217.65 -337.00)">Stimu2</text>
<line x1="237.30" y1="327.30" x2="237.30" y2="329.50" stroke="#333" stroke-width="1.0"/>
<text x="239.10" y="337.00" font-size="6.81" text-anchor="end" font-weight="bold" fill="#000" font-style="italic" stroke="#000" stroke-width="0.2" transform="translate(239.10 337.00) rotate(-45) scale(0.94 1) translate(-239.10 -337.00)">Stimu3</text>
<line x1="258.75" y1="327.30" x2="258.75" y2="329.50" stroke="#333" stroke-width="1.0"/>
<text x="260.55" y="337.00" font-size="6.81" text-anchor="end" font-weight="bold" fill="#000" font-style="italic" stroke="#000" stroke-width="0.2" transform="translate(260.55 337.00) rotate(-45) scale(0.94 1) translate(-260.55 -337.00)">Stimu4</text>
<line x1="280.20" y1="327.30" x2="280.20" y2="329.50" stroke="#333" stroke-width="1.0"/>
<text x="282.00" y="337.00" font-size="6.81" text-anchor="end" font-weight="bold" fill="#000" font-style="italic" stroke="#000" stroke-width="0.2" transform="translate(282.00 337.00) rotate(-45) scale(0.94 1) translate(-282.00 -337.00)">Stimu5</text>
<line x1="256.90" y1="322.50" x2="263.80" y2="322.50" stroke="#777" stroke-width="1.2"/>
<text x="260.35" y="320.30" font-size="5.68" text-anchor="middle" font-weight="normal" fill="#111" stroke="#111" stroke-width="0.08" transform="translate(260.35 320.30) scale(0.88 1) translate(-260.35 -320.30)">ns</text>
<text x="241.00" y="229.80" font-size="7.39" text-anchor="middle" font-weight="bold" fill="#000" stroke="#000" stroke-width="0.1" transform="translate(241.00 229.80) scale(0.88 1) translate(-241.00 -229.80)">TNF<tspan font-weight="normal" font-family="Liberation Serif" stroke-width="0.3" font-size="8.13">α</tspan></text>
<text x="160.60" y="282.00" font-size="5.9" text-anchor="middle" font-weight="bold" fill="#000" stroke="#000" stroke-width="0.18" transform="translate(160.60 282.00) rotate(-90) translate(-160.60 -282.00)">pg/mL</text>
<line x1="333.20" y1="229.90" x2="333.20" y2="330.30" stroke="#6e6e6e" stroke-width="1.2"/>
<line x1="331.40" y1="330.30" x2="333.70" y2="330.30" stroke="#6e6e6e" stroke-width="1.2"/>
<text x="330.00" y="332.57" font-size="7.16" text-anchor="end" font-weight="bold" fill="#000" stroke="#000" stroke-width="0.16" transform="translate(330.00 332.57) scale(0.88 1) translate(-330.00 -332.57)">0</text>
<line x1="331.40" y1="305.35" x2="333.70" y2="305.35" stroke="#6e6e6e" stroke-width="1.2"/>
<text x="330.00" y="307.62" font-size="7.16" text-anchor="end" font-weight="bold" fill="#000" stroke="#000" stroke-width="0.16" transform="translate(330.00 307.62) scale(0.88 1) translate(-330.00 -307.62)">100</text>
<line x1="331.40" y1="280.40" x2="333.70" y2="280.40" stroke="#6e6e6e" stroke-width="1.2"/>
<text x="330.00" y="282.67" font-size="7.16" text-anchor="end" font-weight="bold" fill="#000" stroke="#000" stroke-width="0.16" transform="translate(330.00 282.67) scale(0.88 1) translate(-330.00 -282.67)">200</text>
<line x1="331.40" y1="255.45" x2="333.70" y2="255.45" stroke="#6e6e6e" stroke-width="1.2"/>
<text x="330.00" y="257.72" font-size="7.16" text-anchor="end" font-weight="bold" fill="#000" stroke="#000" stroke-width="0.16" transform="translate(330.00 257.72) scale(0.88 1) translate(-330.00 -257.72)">300</text>
<line x1="331.40" y1="230.50" x2="333.70" y2="230.50" stroke="#6e6e6e" stroke-width="1.2"/>
<text x="330.00" y="232.77" font-size="7.16" text-anchor="end" font-weight="bold" fill="#000" stroke="#000" stroke-width="0.16" transform="translate(330.00 232.77) scale(0.88 1) translate(-330.00 -232.77)">400</text>
<rect x="334.90" y="329.50" width="3.40" height="0.80" fill="#0F600F"/>
<rect x="340.30" y="329.50" width="3.40" height="0.80" fill="#9C6518"/>
<rect x="346.00" y="260.69" width="3.70" height="69.61" fill="#A20000"/>
<line x1="347.85" y1="260.69" x2="347.85" y2="255.19" stroke="#A20000" stroke-width="0.9"/>
<line x1="346.75" y1="255.19" x2="348.95" y2="255.19" stroke="#A20000" stroke-width="0.9"/>
<rect x="353.95" y="329.50" width="3.40" height="0.80" fill="#0F600F"/>
<rect x="359.35" y="329.50" width="3.40" height="0.80" fill="#9C6518"/>
<rect x="365.05" y="291.88" width="3.70" height="38.42" fill="#A20000"/>
<line x1="366.90" y1="291.88" x2="366.90" y2="288.38" stroke="#A20000" stroke-width="0.9"/>
<line x1="365.80" y1="288.38" x2="368.00" y2="288.38" stroke="#A20000" stroke-width="0.9"/>
<rect x="373.00" y="329.50" width="3.40" height="0.80" fill="#0F600F"/>
<rect x="378.40" y="329.50" width="3.40" height="0.80" fill="#9C6518"/>
<rect x="384.10" y="302.61" width="3.70" height="27.69" fill="#A20000"/>
<line x1="385.95" y1="302.61" x2="385.95" y2="300.11" stroke="#A20000" stroke-width="0.9"/>
<line x1="384.85" y1="300.11" x2="387.05" y2="300.11" stroke="#A20000" stroke-width="0.9"/>
<rect x="392.05" y="329.50" width="3.40" height="0.80" fill="#0F600F"/>
<rect x="397.45" y="329.50" width="3.40" height="0.80" fill="#9C6518"/>
<rect x="403.15" y="315.08" width="3.70" height="15.22" fill="#A20000"/>
<line x1="405.00" y1="315.08" x2="405.00" y2="312.58" stroke="#A20000" stroke-width="0.9"/>
<line x1="403.90" y1="312.58" x2="406.10" y2="312.58" stroke="#A20000" stroke-width="0.9"/>
<rect x="411.10" y="329.50" width="3.40" height="0.80" fill="#0F600F"/>
<rect x="416.50" y="329.50" width="3.40" height="0.80" fill="#9C6518"/>
<rect x="422.20" y="319.57" width="3.70" height="10.73" fill="#A20000"/>
<line x1="424.05" y1="319.57" x2="424.05" y2="318.07" stroke="#A20000" stroke-width="0.9"/>
<line x1="422.95" y1="318.07" x2="425.15" y2="318.07" stroke="#A20000" stroke-width="0.9"/>
<line x1="332.70" y1="330.30" x2="427.30" y2="330.30" stroke="#4a4a4a" stroke-width="1.2"/>
<line x1="337.50" y1="250.30" x2="350.90" y2="250.30" stroke="#333" stroke-width="1.0"/>
<text x="344.20" y="250.30" font-size="5.68" text-anchor="middle" font-weight="bold" fill="#222" transform="translate(344.20 250.30) scale(0.88 1) translate(-344.20 -250.30)">****</text>
<line x1="340.70" y1="254.10" x2="350.90" y2="254.10" stroke="#333" stroke-width="1.0"/>
<text x="345.80" y="254.10" font-size="5.68" text-anchor="middle" font-weight="bold" fill="#222" transform="translate(345.80 254.10) scale(0.88 1) translate(-345.80 -254.10)">****</text>
<line x1="354.00" y1="282.80" x2="367.70" y2="282.80" stroke="#333" stroke-width="1.0"/>
<text x="360.85" y="282.80" font-size="5.68" text-anchor="middle" font-weight="bold" fill="#222" transform="translate(360.85 282.80) scale(0.88 1) translate(-360.85 -282.80)">****</text>
<line x1="357.90" y1="286.30" x2="367.70" y2="286.30" stroke="#333" stroke-width="1.0"/>
<text x="362.80" y="286.30" font-size="5.68" text-anchor="middle" font-weight="bold" fill="#222" transform="translate(362.80 286.30) scale(0.88 1) translate(-362.80 -286.30)">****</text>
<line x1="373.30" y1="292.50" x2="387.00" y2="292.50" stroke="#333" stroke-width="1.0"/>
<text x="380.15" y="292.50" font-size="5.68" text-anchor="middle" font-weight="bold" fill="#222" transform="translate(380.15 292.50) scale(0.88 1) translate(-380.15 -292.50)">****</text>
<line x1="376.50" y1="296.30" x2="387.00" y2="296.30" stroke="#333" stroke-width="1.0"/>
<text x="381.75" y="296.30" font-size="5.68" text-anchor="middle" font-weight="bold" fill="#222" transform="translate(381.75 296.30) scale(0.88 1) translate(-381.75 -296.30)">****</text>
<line x1="391.30" y1="305.00" x2="405.00" y2="305.00" stroke="#333" stroke-width="1.0"/>
<text x="398.15" y="305.00" font-size="5.68" text-anchor="middle" font-weight="bold" fill="#222" transform="translate(398.15 305.00) scale(0.88 1) translate(-398.15 -305.00)">****</text>
<line x1="394.50" y1="308.30" x2="405.00" y2="308.30" stroke="#333" stroke-width="1.0"/>
<text x="399.75" y="308.30" font-size="5.68" text-anchor="middle" font-weight="bold" fill="#222" transform="translate(399.75 308.30) scale(0.88 1) translate(-399.75 -308.30)">****</text>
<line x1="409.30" y1="313.80" x2="423.00" y2="313.80" stroke="#333" stroke-width="1.0"/>
<text x="416.15" y="313.80" font-size="5.68" text-anchor="middle" font-weight="bold" fill="#222" transform="translate(416.15 313.80) scale(0.88 1) translate(-416.15 -313.80)">****</text>
<line x1="412.50" y1="317.50" x2="423.00" y2="317.50" stroke="#333" stroke-width="1.0"/>
<text x="417.75" y="317.50" font-size="5.68" text-anchor="middle" font-weight="bold" fill="#222" transform="translate(417.75 317.50) scale(0.88 1) translate(-417.75 -317.50)">****</text>
<line x1="342.40" y1="330.30" x2="342.40" y2="332.50" stroke="#333" stroke-width="1.0"/>
<text x="345.40" y="337.80" font-size="6.81" text-anchor="end" font-weight="bold" fill="#000" font-style="italic" stroke="#000" stroke-width="0.2" transform="translate(345.40 337.80) rotate(-45) scale(0.94 1) translate(-345.40 -337.80)">Stimu1</text>
<line x1="361.45" y1="330.30" x2="361.45" y2="332.50" stroke="#333" stroke-width="1.0"/>
<text x="364.45" y="337.80" font-size="6.81" text-anchor="end" font-weight="bold" fill="#000" font-style="italic" stroke="#000" stroke-width="0.2" transform="translate(364.45 337.80) rotate(-45) scale(0.94 1) translate(-364.45 -337.80)">Stimu2</text>
<line x1="380.50" y1="330.30" x2="380.50" y2="332.50" stroke="#333" stroke-width="1.0"/>
<text x="383.50" y="337.80" font-size="6.81" text-anchor="end" font-weight="bold" fill="#000" font-style="italic" stroke="#000" stroke-width="0.2" transform="translate(383.50 337.80) rotate(-45) scale(0.94 1) translate(-383.50 -337.80)">Stimu3</text>
<line x1="399.55" y1="330.30" x2="399.55" y2="332.50" stroke="#333" stroke-width="1.0"/>
<text x="402.55" y="337.80" font-size="6.81" text-anchor="end" font-weight="bold" fill="#000" font-style="italic" stroke="#000" stroke-width="0.2" transform="translate(402.55 337.80) rotate(-45) scale(0.94 1) translate(-402.55 -337.80)">Stimu4</text>
<line x1="418.60" y1="330.30" x2="418.60" y2="332.50" stroke="#333" stroke-width="1.0"/>
<text x="421.60" y="337.80" font-size="6.81" text-anchor="end" font-weight="bold" fill="#000" font-style="italic" stroke="#000" stroke-width="0.2" transform="translate(421.60 337.80) rotate(-45) scale(0.94 1) translate(-421.60 -337.80)">Stimu5</text>
<text x="384.20" y="229.50" font-size="6.93" text-anchor="middle" font-weight="bold" fill="#000" stroke="#000" stroke-width="0.1" transform="translate(384.20 229.50) scale(0.88 1) translate(-384.20 -229.50)">IL2</text>
<text x="312.50" y="282.00" font-size="5.9" text-anchor="middle" font-weight="bold" fill="#000" stroke="#000" stroke-width="0.18" transform="translate(312.50 282.00) rotate(-90) translate(-312.50 -282.00)">pg/mL</text>
<rect x="441.80" y="233.80" width="6.00" height="5.60" fill="#0E5F0E"/>
<text x="450.20" y="238.40" font-size="5.91" text-anchor="start" font-weight="normal" fill="#111" stroke="#111" stroke-width="0.08" transform="translate(450.20 238.40) scale(0.88 1) translate(-450.20 -238.40)">Vδ1T</text>
<rect x="441.80" y="247.70" width="6.00" height="5.60" fill="#857A10"/>
<text x="450.20" y="252.30" font-size="5.91" text-anchor="start" font-weight="normal" fill="#111" stroke="#111" stroke-width="0.08" transform="translate(450.20 252.30) scale(0.88 1) translate(-450.20 -252.30)">AG-CAR-Vδ1T</text>
<rect x="441.80" y="261.00" width="6.00" height="5.60" fill="#A30000"/>
<text x="450.20" y="265.60" font-size="5.91" text-anchor="start" font-weight="normal" fill="#111" stroke="#111" stroke-width="0.08" transform="translate(450.20 265.60) scale(0.88 1) translate(-450.20 -265.60)">AQ-CAR-IL2-Vδ1T</text>
<text x="1.30" y="373.60" font-size="14.88" text-anchor="start" font-weight="bold" fill="#000" stroke="#000" stroke-width="0.2" transform="translate(1.30 373.60) scale(0.84 1) translate(-1.30 -373.60)">F</text>
<line x1="37.00" y1="383.40" x2="37.00" y2="473.10" stroke="#6e6e6e" stroke-width="1.2"/>
<line x1="35.20" y1="473.10" x2="37.50" y2="473.10" stroke="#6e6e6e" stroke-width="1.2"/>
<text x="33.40" y="475.40" font-size="7.27" text-anchor="end" font-weight="bold" fill="#000" stroke="#000" stroke-width="0.16" transform="translate(33.40 475.40) scale(0.88 1) translate(-33.40 -475.40)">0.0</text>
<line x1="35.20" y1="443.40" x2="37.50" y2="443.40" stroke="#6e6e6e" stroke-width="1.2"/>
<text x="33.40" y="445.70" font-size="7.27" text-anchor="end" font-weight="bold" fill="#000" stroke="#000" stroke-width="0.16" transform="translate(33.40 445.70) scale(0.88 1) translate(-33.40 -445.70)">0.5</text>
<line x1="35.20" y1="413.70" x2="37.50" y2="413.70" stroke="#6e6e6e" stroke-width="1.2"/>
<text x="33.40" y="416.00" font-size="7.27" text-anchor="end" font-weight="bold" fill="#000" stroke="#000" stroke-width="0.16" transform="translate(33.40 416.00) scale(0.88 1) translate(-33.40 -416.00)">1.0</text>
<line x1="35.20" y1="384.00" x2="37.50" y2="384.00" stroke="#6e6e6e" stroke-width="1.2"/>
<text x="33.40" y="386.30" font-size="7.27" text-anchor="end" font-weight="bold" fill="#000" stroke="#000" stroke-width="0.16" transform="translate(33.40 386.30) scale(0.88 1) translate(-33.40 -386.30)">1.5</text>
<line x1="36.50" y1="473.10" x2="123.80" y2="473.10" stroke="#4a4a4a" stroke-width="1.2"/>
<line x1="37.00" y1="473.10" x2="37.00" y2="475.30" stroke="#333" stroke-width="1.0"/>
<text x="37.00" y="484.30" font-size="7.27" text-anchor="middle" font-weight="bold" fill="#000" stroke="#000" stroke-width="0.1" transform="translate(37.00 484.30) scale(0.88 1) translate(-37.00 -484.30)">0</text>
<line x1="58.50" y1="473.10" x2="58.50" y2="475.30" stroke="#333" stroke-width="1.0"/>
<text x="58.50" y="484.30" font-size="7.27" text-anchor="middle" font-weight="bold" fill="#000" stroke="#000" stroke-width="0.1" transform="translate(58.50 484.30) scale(0.88 1) translate(-58.50 -484.30)">20</text>
<line x1="80.00" y1="473.10" x2="80.00" y2="475.30" stroke="#333" stroke-width="1.0"/>
<text x="80.00" y="484.30" font-size="7.27" text-anchor="middle" font-weight="bold" fill="#000" stroke="#000" stroke-width="0.1" transform="translate(80.00 484.30) scale(0.88 1) translate(-80.00 -484.30)">40</text>
<line x1="101.50" y1="473.10" x2="101.50" y2="475.30" stroke="#333" stroke-width="1.0"/>
<text x="101.50" y="484.30" font-size="7.27" text-anchor="middle" font-weight="bold" fill="#000" stroke="#000" stroke-width="0.1" transform="translate(101.50 484.30) scale(0.88 1) translate(-101.50 -484.30)">60</text>
<line x1="123.00" y1="473.10" x2="123.00" y2="475.30" stroke="#333" stroke-width="1.0"/>
<text x="123.00" y="484.30" font-size="7.27" text-anchor="middle" font-weight="bold" fill="#000" stroke="#000" stroke-width="0.1" transform="translate(123.00 484.30) scale(0.88 1) translate(-123.00 -484.30)">80</text>
<text x="75.60" y="381.40" font-size="7.39" text-anchor="middle" font-weight="bold" fill="#000" stroke="#000" stroke-width="0.1" transform="translate(75.60 381.40) scale(0.88 1) translate(-75.60 -381.40)">SK-N-AS (E:T = 1:2)</text>
<path d="M62.90,414.20 L65.00,401.50 L65.70,402.90 L67.90,413.70 L70.00,423.70 L72.90,432.30 L77.20,440.90 L82.90,445.90 L88.70,450.20 L95.80,454.80 L103.00,458.40 L110.10,460.90 L115.90,463.10" fill="none" stroke="#157015" stroke-width="1.2" stroke-linejoin="round" stroke-linecap="round"/>
<path d="M37.10,473.80 L37.90,457.30 L39.30,447.30 L42.10,438.80 L46.40,430.90 L52.10,423.80 L57.90,418.00 L62.10,413.80 L62.90,414.50 L65.00,400.50 L65.70,402.90 L68.60,405.10 L74.30,408.60 L80.10,413.70 L85.80,418.70 L91.50,421.50 L97.20,425.10 L103.00,427.60 L108.70,428.70 L115.90,429.80" fill="none" stroke="#A40000" stroke-width="1.5" stroke-linejoin="round" stroke-linecap="round"/>
<path d="M37.10,472.90 L37.90,456.40 L39.30,446.40 L42.10,437.90 L46.40,430.00 L52.10,422.90 L57.90,417.10 L62.10,412.90 L62.90,413.60 L65.30,391.40 L65.70,402.90 L67.20,402.20 L70.00,398.60 L74.30,397.90 L78.60,396.50 L85.80,396.50 L91.50,399.30 L97.20,401.00 L103.00,401.50 L105.80,401.90 L107.30,403.90 L108.70,401.50 L111.60,400.00 L113.70,398.60 L115.90,399.80" fill="none" stroke="#6E00B8" stroke-width="1.5" stroke-linejoin="round" stroke-linecap="round"/>
<text x="18.90" y="430.20" font-size="6.55" text-anchor="middle" font-weight="bold" fill="#000" stroke="#000" stroke-width="0.18" transform="translate(18.90 430.20) rotate(-90) translate(-18.90 -430.20)">Normalized cell index</text>
<text x="80.30" y="492.30" font-size="7.61" text-anchor="middle" font-weight="bold" fill="#000" stroke="#000" stroke-width="0.12" transform="translate(80.30 492.30) scale(0.88 1) translate(-80.30 -492.30)">Time (hour)</text>
<line x1="159.00" y1="380.10" x2="159.00" y2="472.30" stroke="#6e6e6e" stroke-width="1.2"/>
<line x1="157.20" y1="472.30" x2="159.50" y2="472.30" stroke="#6e6e6e" stroke-width="1.2"/>
<text x="154.40" y="474.60" font-size="7.27" text-anchor="end" font-weight="bold" fill="#000" stroke="#000" stroke-width="0.16" transform="translate(154.40 474.60) scale(0.88 1) translate(-154.40 -474.60)">0</text>
<line x1="157.20" y1="449.40" x2="159.50" y2="449.40" stroke="#6e6e6e" stroke-width="1.2"/>
<text x="154.40" y="451.70" font-size="7.27" text-anchor="end" font-weight="bold" fill="#000" stroke="#000" stroke-width="0.16" transform="translate(154.40 451.70) scale(0.88 1) translate(-154.40 -451.70)">1</text>
<line x1="157.20" y1="426.50" x2="159.50" y2="426.50" stroke="#6e6e6e" stroke-width="1.2"/>
<text x="154.40" y="428.80" font-size="7.27" text-anchor="end" font-weight="bold" fill="#000" stroke="#000" stroke-width="0.16" transform="translate(154.40 428.80) scale(0.88 1) translate(-154.40 -428.80)">2</text>
<line x1="157.20" y1="403.60" x2="159.50" y2="403.60" stroke="#6e6e6e" stroke-width="1.2"/>
<text x="154.40" y="405.90" font-size="7.27" text-anchor="end" font-weight="bold" fill="#000" stroke="#000" stroke-width="0.16" transform="translate(154.40 405.90) scale(0.88 1) translate(-154.40 -405.90)">3</text>
<line x1="157.20" y1="380.70" x2="159.50" y2="380.70" stroke="#6e6e6e" stroke-width="1.2"/>
<text x="154.40" y="383.00" font-size="7.27" text-anchor="end" font-weight="bold" fill="#000" stroke="#000" stroke-width="0.16" transform="translate(154.40 383.00) scale(0.88 1) translate(-154.40 -383.00)">4</text>
<line x1="158.50" y1="472.30" x2="247.60" y2="472.30" stroke="#4a4a4a" stroke-width="1.2"/>
<line x1="159.00" y1="472.30" x2="159.00" y2="474.50" stroke="#333" stroke-width="1.0"/>
<text x="159.00" y="482.30" font-size="7.27" text-anchor="middle" font-weight="bold" fill="#000" stroke="#000" stroke-width="0.1" transform="translate(159.00 482.30) scale(0.88 1) translate(-159.00 -482.30)">0</text>
<line x1="181.25" y1="472.30" x2="181.25" y2="474.50" stroke="#333" stroke-width="1.0"/>
<text x="181.25" y="482.30" font-size="7.27" text-anchor="middle" font-weight="bold" fill="#000" stroke="#000" stroke-width="0.1" transform="translate(181.25 482.30) scale(0.88 1) translate(-181.25 -482.30)">20</text>
<line x1="203.50" y1="472.30" x2="203.50" y2="474.50" stroke="#333" stroke-width="1.0"/>
<text x="203.50" y="482.30" font-size="7.27" text-anchor="middle" font-weight="bold" fill="#000" stroke="#000" stroke-width="0.1" transform="translate(203.50 482.30) scale(0.88 1) translate(-203.50 -482.30)">40</text>
<line x1="225.75" y1="472.30" x2="225.75" y2="474.50" stroke="#333" stroke-width="1.0"/>
<text x="225.75" y="482.30" font-size="7.27" text-anchor="middle" font-weight="bold" fill="#000" stroke="#000" stroke-width="0.1" transform="translate(225.75 482.30) scale(0.88 1) translate(-225.75 -482.30)">60</text>
<line x1="248.00" y1="472.30" x2="248.00" y2="474.50" stroke="#333" stroke-width="1.0"/>
<text x="248.00" y="482.30" font-size="7.27" text-anchor="middle" font-weight="bold" fill="#000" stroke="#000" stroke-width="0.1" transform="translate(248.00 482.30) scale(0.88 1) translate(-248.00 -482.30)">80</text>
<text x="201.00" y="381.40" font-size="7.39" text-anchor="middle" font-weight="bold" fill="#000" stroke="#000" stroke-width="0.1" transform="translate(201.00 381.40) scale(0.88 1) translate(-201.00 -381.40)">A549 (E:T = 1:2)</text>
<path d="M186.70,449.50 L187.90,452.60 L193.10,449.70 L200.00,446.20 L206.90,442.80 L217.30,438.40 L227.70,432.40 L236.30,427.70" fill="none" stroke="#A40000" stroke-width="1.4" stroke-linejoin="round" stroke-linecap="round"/>
<path d="M161.90,466.70 L163.60,464.90 L165.50,463.30 L167.50,461.90 L170.00,460.50 L173.00,458.90 L176.50,457.20 L179.50,455.60 L182.50,453.70 L185.30,451.50 L186.70,449.50 L187.90,452.60 L189.60,457.50 L192.20,458.30 L196.00,457.00 L200.00,454.90 L206.90,449.70 L213.80,447.10 L220.70,445.70 L221.60,447.10 L223.30,445.40 L229.40,444.20 L236.30,442.20" fill="none" stroke="#157015" stroke-width="1.4" stroke-linejoin="round" stroke-linecap="round"/>
<path d="M158.90,471.70 L159.60,469.50 L160.50,467.60 L161.90,465.80 L163.60,464.00 L165.50,462.40 L167.50,461.00 L170.00,459.60 L173.00,458.00 L176.50,456.30 L179.50,454.70 L182.50,452.80 L185.30,450.60 L186.70,448.80 L187.90,452.60 L190.50,448.00 L193.50,444.80 L196.50,441.90 L201.70,435.80 L206.00,430.00 L210.40,424.60 L215.00,418.50 L219.00,412.50 L224.20,404.70 L229.40,400.70 L232.00,399.60 L234.60,399.50 L236.30,401.80" fill="none" stroke="#6E00B8" stroke-width="1.5" stroke-linejoin="round" stroke-linecap="round"/>
<text x="148.00" y="429.80" font-size="6.55" text-anchor="middle" font-weight="bold" fill="#000" stroke="#000" stroke-width="0.18" transform="translate(148.00 429.80) rotate(-90) translate(-148.00 -429.80)">Normalized cell index</text>
<text x="203.60" y="491.30" font-size="7.61" text-anchor="middle" font-weight="bold" fill="#000" stroke="#000" stroke-width="0.12" transform="translate(203.60 491.30) scale(0.88 1) translate(-203.60 -491.30)">Time (hour)</text>
<line x1="278.40" y1="389.80" x2="278.40" y2="491.40" stroke="#6e6e6e" stroke-width="1.2"/>
<line x1="276.60" y1="491.40" x2="278.90" y2="491.40" stroke="#6e6e6e" stroke-width="1.2"/>
<text x="274.40" y="493.70" font-size="7.27" text-anchor="end" font-weight="bold" fill="#000" stroke="#000" stroke-width="0.16" transform="translate(274.40 493.70) scale(0.88 1) translate(-274.40 -493.70)">−2</text>
<line x1="276.60" y1="471.20" x2="278.90" y2="471.20" stroke="#6e6e6e" stroke-width="1.2"/>
<text x="274.40" y="473.50" font-size="7.27" text-anchor="end" font-weight="bold" fill="#000" stroke="#000" stroke-width="0.16" transform="translate(274.40 473.50) scale(0.88 1) translate(-274.40 -473.50)">0</text>
<line x1="276.60" y1="451.00" x2="278.90" y2="451.00" stroke="#6e6e6e" stroke-width="1.2"/>
<text x="274.40" y="453.30" font-size="7.27" text-anchor="end" font-weight="bold" fill="#000" stroke="#000" stroke-width="0.16" transform="translate(274.40 453.30) scale(0.88 1) translate(-274.40 -453.30)">2</text>
<line x1="276.60" y1="430.80" x2="278.90" y2="430.80" stroke="#6e6e6e" stroke-width="1.2"/>
<text x="274.40" y="433.10" font-size="7.27" text-anchor="end" font-weight="bold" fill="#000" stroke="#000" stroke-width="0.16" transform="translate(274.40 433.10) scale(0.88 1) translate(-274.40 -433.10)">4</text>
<line x1="276.60" y1="410.60" x2="278.90" y2="410.60" stroke="#6e6e6e" stroke-width="1.2"/>
<text x="274.40" y="412.90" font-size="7.27" text-anchor="end" font-weight="bold" fill="#000" stroke="#000" stroke-width="0.16" transform="translate(274.40 412.90) scale(0.88 1) translate(-274.40 -412.90)">6</text>
<line x1="276.60" y1="390.40" x2="278.90" y2="390.40" stroke="#6e6e6e" stroke-width="1.2"/>
<text x="274.40" y="392.70" font-size="7.27" text-anchor="end" font-weight="bold" fill="#000" stroke="#000" stroke-width="0.16" transform="translate(274.40 392.70) scale(0.88 1) translate(-274.40 -392.70)">8</text>
<line x1="277.90" y1="471.60" x2="359.50" y2="471.60" stroke="#4a4a4a" stroke-width="1.2"/>
<line x1="278.40" y1="471.60" x2="278.40" y2="473.80" stroke="#333" stroke-width="1.0"/>
<line x1="296.40" y1="471.60" x2="296.40" y2="473.80" stroke="#333" stroke-width="1.0"/>
<text x="296.40" y="481.50" font-size="7.27" text-anchor="middle" font-weight="bold" fill="#000" stroke="#000" stroke-width="0.1" transform="translate(296.40 481.50) scale(0.88 1) translate(-296.40 -481.50)">20</text>
<line x1="314.40" y1="471.60" x2="314.40" y2="473.80" stroke="#333" stroke-width="1.0"/>
<text x="314.40" y="481.50" font-size="7.27" text-anchor="middle" font-weight="bold" fill="#000" stroke="#000" stroke-width="0.1" transform="translate(314.40 481.50) scale(0.88 1) translate(-314.40 -481.50)">40</text>
<line x1="332.40" y1="471.60" x2="332.40" y2="473.80" stroke="#333" stroke-width="1.0"/>
<text x="332.40" y="481.50" font-size="7.27" text-anchor="middle" font-weight="bold" fill="#000" stroke="#000" stroke-width="0.1" transform="translate(332.40 481.50) scale(0.88 1) translate(-332.40 -481.50)">60</text>
<line x1="350.40" y1="471.60" x2="350.40" y2="473.80" stroke="#333" stroke-width="1.0"/>
<text x="350.40" y="481.50" font-size="7.27" text-anchor="middle" font-weight="bold" fill="#000" stroke="#000" stroke-width="0.1" transform="translate(350.40 481.50) scale(0.88 1) translate(-350.40 -481.50)">80</text>
<text x="319.80" y="381.40" font-size="7.39" text-anchor="middle" font-weight="bold" fill="#000" stroke="#000" stroke-width="0.1" transform="translate(319.80 381.40) scale(0.88 1) translate(-319.80 -381.40)">HCT-15 (E:T = 1:2)</text>
<path d="M279.30,468.00 L281.10,465.60 L284.50,464.60 L288.80,465.30 L294.00,464.30 L300.10,463.10 L303.50,461.90 L305.30,462.60 L309.60,464.40 L318.30,465.40 L326.90,465.40 L335.60,464.90 L346.80,464.00 L351.10,465.40 L358.40,466.60" fill="none" stroke="#A40000" stroke-width="1.5" stroke-linejoin="round" stroke-linecap="round"/>
<path d="M301.00,462.30 L303.50,464.90 L309.60,466.60 L318.30,467.80 L326.90,468.70 L335.60,469.60 L344.20,470.90 L351.10,471.80 L358.40,471.50" fill="none" stroke="#157015" stroke-width="1.5" stroke-linejoin="round" stroke-linecap="round"/>
<path d="M278.40,470.90 L279.30,468.30 L281.10,466.10 L284.50,465.40 L288.80,466.10 L294.00,464.90 L300.10,463.10 L301.80,461.90 L302.70,457.10 L303.50,455.70 L309.60,455.00 L316.50,452.80 L318.30,451.90 L326.90,445.00 L333.80,438.10 L340.70,432.90 L347.70,424.20 L352.90,417.30 L358.40,409.50" fill="none" stroke="#6E00B8" stroke-width="2.0" stroke-linejoin="round" stroke-linecap="round"/>
<text x="266.60" y="440.50" font-size="6.55" text-anchor="middle" font-weight="bold" fill="#000" stroke="#000" stroke-width="0.18" transform="translate(266.60 440.50) rotate(-90) translate(-266.60 -440.50)">Normalized cell index</text>
<text x="317.50" y="490.20" font-size="7.61" text-anchor="middle" font-weight="bold" fill="#000" stroke="#000" stroke-width="0.12" transform="translate(317.50 490.20) scale(0.88 1) translate(-317.50 -490.20)">Time (hour)</text>
<line x1="388.50" y1="389.90" x2="388.50" y2="489.50" stroke="#6e6e6e" stroke-width="1.2"/>
<line x1="386.70" y1="489.50" x2="389.00" y2="489.50" stroke="#6e6e6e" stroke-width="1.2"/>
<text x="384.30" y="491.80" font-size="7.27" text-anchor="end" font-weight="bold" fill="#000" stroke="#000" stroke-width="0.16" transform="translate(384.30 491.80) scale(0.88 1) translate(-384.30 -491.80)">−1</text>
<line x1="386.70" y1="469.70" x2="389.00" y2="469.70" stroke="#6e6e6e" stroke-width="1.2"/>
<text x="384.30" y="472.00" font-size="7.27" text-anchor="end" font-weight="bold" fill="#000" stroke="#000" stroke-width="0.16" transform="translate(384.30 472.00) scale(0.88 1) translate(-384.30 -472.00)">0</text>
<line x1="386.70" y1="449.90" x2="389.00" y2="449.90" stroke="#6e6e6e" stroke-width="1.2"/>
<text x="384.30" y="452.20" font-size="7.27" text-anchor="end" font-weight="bold" fill="#000" stroke="#000" stroke-width="0.16" transform="translate(384.30 452.20) scale(0.88 1) translate(-384.30 -452.20)">1</text>
<line x1="386.70" y1="430.10" x2="389.00" y2="430.10" stroke="#6e6e6e" stroke-width="1.2"/>
<text x="384.30" y="432.40" font-size="7.27" text-anchor="end" font-weight="bold" fill="#000" stroke="#000" stroke-width="0.16" transform="translate(384.30 432.40) scale(0.88 1) translate(-384.30 -432.40)">2</text>
<line x1="386.70" y1="410.30" x2="389.00" y2="410.30" stroke="#6e6e6e" stroke-width="1.2"/>
<text x="384.30" y="412.60" font-size="7.27" text-anchor="end" font-weight="bold" fill="#000" stroke="#000" stroke-width="0.16" transform="translate(384.30 412.60) scale(0.88 1) translate(-384.30 -412.60)">3</text>
<line x1="386.70" y1="390.50" x2="389.00" y2="390.50" stroke="#6e6e6e" stroke-width="1.2"/>
<text x="384.30" y="392.80" font-size="7.27" text-anchor="end" font-weight="bold" fill="#000" stroke="#000" stroke-width="0.16" transform="translate(384.30 392.80) scale(0.88 1) translate(-384.30 -392.80)">4</text>
<line x1="388.00" y1="469.70" x2="466.50" y2="469.70" stroke="#4a4a4a" stroke-width="1.2"/>
<line x1="388.50" y1="469.70" x2="388.50" y2="471.90" stroke="#333" stroke-width="1.0"/>
<line x1="408.10" y1="469.70" x2="408.10" y2="471.90" stroke="#333" stroke-width="1.0"/>
<text x="408.10" y="481.00" font-size="7.27" text-anchor="middle" font-weight="bold" fill="#000" stroke="#000" stroke-width="0.1" transform="translate(408.10 481.00) scale(0.88 1) translate(-408.10 -481.00)">20</text>
<line x1="427.60" y1="469.70" x2="427.60" y2="471.90" stroke="#333" stroke-width="1.0"/>
<text x="427.60" y="481.00" font-size="7.27" text-anchor="middle" font-weight="bold" fill="#000" stroke="#000" stroke-width="0.1" transform="translate(427.60 481.00) scale(0.88 1) translate(-427.60 -481.00)">40</text>
<line x1="447.00" y1="469.70" x2="447.00" y2="471.90" stroke="#333" stroke-width="1.0"/>
<text x="447.00" y="481.00" font-size="7.27" text-anchor="middle" font-weight="bold" fill="#000" stroke="#000" stroke-width="0.1" transform="translate(447.00 481.00) scale(0.88 1) translate(-447.00 -481.00)">60</text>
<line x1="466.40" y1="469.70" x2="466.40" y2="471.90" stroke="#333" stroke-width="1.0"/>
<text x="466.40" y="481.00" font-size="7.27" text-anchor="middle" font-weight="bold" fill="#000" stroke="#000" stroke-width="0.1" transform="translate(466.40 481.00) scale(0.88 1) translate(-466.40 -481.00)">80</text>
<text x="427.90" y="381.40" font-size="5.91" text-anchor="middle" font-weight="bold" fill="#000" stroke="#000" stroke-width="0.1" transform="translate(427.90 381.40) scale(0.88 1) translate(-427.90 -381.40)">SW1990 (E:T = 1:2)</text>
<path d="M388.50,469.70 L390.40,467.20 L395.80,464.20 L400.40,460.00 L405.00,455.60 L409.60,451.80 L411.90,449.20 L412.40,445.40 L413.50,447.70 L418.80,447.40 L425.00,447.40 L431.20,448.50 L435.80,449.50 L441.90,448.90 L451.20,447.40 L456.50,447.70" fill="none" stroke="#A40000" stroke-width="1.5" stroke-linejoin="round" stroke-linecap="round"/>
<path d="M412.40,446.50 L414.20,452.30 L415.80,456.20 L418.10,457.70 L425.00,459.20 L431.20,460.80 L437.30,461.80 L446.50,462.80 L456.50,463.50" fill="none" stroke="#157015" stroke-width="1.5" stroke-linejoin="round" stroke-linecap="round"/>
<path d="M388.50,469.70 L390.40,466.20 L395.80,462.80 L400.40,458.50 L405.00,454.20 L409.60,451.20 L414.20,448.50 L420.40,443.10 L426.50,437.70 L431.20,435.10 L437.30,429.20 L443.50,422.30 L451.20,413.10 L456.50,408.80" fill="none" stroke="#6E00B8" stroke-width="1.5" stroke-linejoin="round" stroke-linecap="round"/>
<text x="378.50" y="433.50" font-size="6.55" text-anchor="middle" font-weight="bold" fill="#000" stroke="#000" stroke-width="0.18" transform="translate(378.50 433.50) rotate(-90) translate(-378.50 -433.50)">Normalized cell index</text>
<text x="429.50" y="490.20" font-size="7.61" text-anchor="middle" font-weight="bold" fill="#000" stroke="#000" stroke-width="0.12" transform="translate(429.50 490.20) scale(0.88 1) translate(-429.50 -490.20)">Time (hour)</text>
<line x1="468.70" y1="397.50" x2="474.50" y2="397.50" stroke="#6E00B8" stroke-width="1.4"/>
<rect x="470.6" y="396.60" width="1.9" height="1.8" fill="#6E00B8"/>
<text x="477.00" y="399.40" font-size="5.91" text-anchor="start" font-weight="normal" fill="#111" stroke="#111" stroke-width="0.08" transform="translate(477.00 399.40) scale(0.88 1) translate(-477.00 -399.40)">Tumor alone</text>
<line x1="468.70" y1="410.80" x2="474.50" y2="410.80" stroke="#A40000" stroke-width="1.4"/>
<rect x="470.6" y="409.90" width="1.9" height="1.8" fill="#A40000"/>
<text x="477.00" y="412.70" font-size="5.91" text-anchor="start" font-weight="normal" fill="#111" stroke="#111" stroke-width="0.08" transform="translate(477.00 412.70) scale(0.88 1) translate(-477.00 -412.70)">Vδ1T</text>
<line x1="468.70" y1="423.80" x2="474.50" y2="423.80" stroke="#157015" stroke-width="1.4"/>
<rect x="470.6" y="422.90" width="1.9" height="1.8" fill="#157015"/>
<text x="477.00" y="425.70" font-size="5.91" text-anchor="start" font-weight="normal" fill="#111" stroke="#111" stroke-width="0.08" transform="translate(477.00 425.70) scale(0.88 1) translate(-477.00 -425.70)">AQ-CAR-IL2-Vδ1T</text>
<text x="1.30" y="513.60" font-size="14.88" text-anchor="start" font-weight="bold" fill="#000" stroke="#000" stroke-width="0.2" transform="translate(1.30 513.60) scale(0.84 1) translate(-1.30 -513.60)">G</text>
<line x1="43.00" y1="521.20" x2="43.00" y2="600.40" stroke="#6e6e6e" stroke-width="1.2"/>
<line x1="41.20" y1="600.40" x2="43.50" y2="600.40" stroke="#6e6e6e" stroke-width="1.2"/>
<text x="39.70" y="602.67" font-size="7.16" text-anchor="end" font-weight="bold" fill="#000" stroke="#000" stroke-width="0.16" transform="translate(39.70 602.67) scale(0.88 1) translate(-39.70 -602.67)">0</text>
<line x1="41.20" y1="574.20" x2="43.50" y2="574.20" stroke="#6e6e6e" stroke-width="1.2"/>
<text x="39.70" y="576.47" font-size="7.16" text-anchor="end" font-weight="bold" fill="#000" stroke="#000" stroke-width="0.16" transform="translate(39.70 576.47) scale(0.88 1) translate(-39.70 -576.47)">500</text>
<line x1="41.20" y1="548.00" x2="43.50" y2="548.00" stroke="#6e6e6e" stroke-width="1.2"/>
<text x="39.70" y="550.27" font-size="7.16" text-anchor="end" font-weight="bold" fill="#000" stroke="#000" stroke-width="0.16" transform="translate(39.70 550.27) scale(0.88 1) translate(-39.70 -550.27)">1,000</text>
<line x1="41.20" y1="521.80" x2="43.50" y2="521.80" stroke="#6e6e6e" stroke-width="1.2"/>
<text x="39.70" y="524.07" font-size="7.16" text-anchor="end" font-weight="bold" fill="#000" stroke="#000" stroke-width="0.16" transform="translate(39.70 524.07) scale(0.88 1) translate(-39.70 -524.07)">1,500</text>
<path d="M48.80,600.40 q2.20,-3.2 4.40,0Z" fill="#0F600F"/>
<rect x="57.10" y="580.59" width="6.40" height="19.81" fill="#A40000"/>
<path d="M57.40,580.89 q2.90,-2.6 5.80,0Z" fill="#A40000"/>
<path d="M74.50,600.40 q2.20,-3.2 4.40,0Z" fill="#0F600F"/>
<rect x="82.80" y="545.01" width="6.40" height="55.39" fill="#A40000"/>
<path d="M83.10,545.31 q2.90,-2.6 5.80,0Z" fill="#A40000"/>
<path d="M99.70,600.40 q2.20,-3.2 4.40,0Z" fill="#0F600F"/>
<rect x="108.00" y="579.60" width="6.40" height="20.80" fill="#A40000"/>
<path d="M108.30,579.90 q2.90,-2.6 5.80,0Z" fill="#A40000"/>
<path d="M125.10,600.40 q2.20,-3.2 4.40,0Z" fill="#0F600F"/>
<rect x="133.40" y="533.12" width="6.40" height="67.28" fill="#A40000"/>
<path d="M133.70,533.42 q2.90,-2.6 5.80,0Z" fill="#A40000"/>
<line x1="42.50" y1="600.40" x2="144.50" y2="600.40" stroke="#4a4a4a" stroke-width="1.2"/>
<line x1="49.40" y1="576.30" x2="61.30" y2="576.30" stroke="#333" stroke-width="1.1"/>
<text x="55.35" y="577.40" font-size="6.82" text-anchor="middle" font-weight="bold" fill="#111" transform="translate(55.35 577.40) scale(0.88 1) translate(-55.35 -577.40)">****</text>
<line x1="75.20" y1="542.10" x2="86.70" y2="542.10" stroke="#333" stroke-width="1.1"/>
<text x="80.95" y="543.20" font-size="6.82" text-anchor="middle" font-weight="bold" fill="#111" transform="translate(80.95 543.20) scale(0.88 1) translate(-80.95 -543.20)">****</text>
<line x1="100.90" y1="577.30" x2="112.70" y2="577.30" stroke="#333" stroke-width="1.1"/>
<text x="106.80" y="578.40" font-size="6.82" text-anchor="middle" font-weight="bold" fill="#111" transform="translate(106.80 578.40) scale(0.88 1) translate(-106.80 -578.40)">****</text>
<line x1="124.80" y1="529.60" x2="136.30" y2="529.60" stroke="#333" stroke-width="1.1"/>
<text x="130.55" y="530.70" font-size="6.82" text-anchor="middle" font-weight="bold" fill="#111" transform="translate(130.55 530.70) scale(0.88 1) translate(-130.55 -530.70)">****</text>
<line x1="55.50" y1="600.40" x2="55.50" y2="602.60" stroke="#333" stroke-width="1.0"/>
<text x="57.70" y="609.80" font-size="6.81" text-anchor="end" font-weight="bold" fill="#000" stroke="#000" stroke-width="0.2" transform="translate(57.70 609.80) rotate(-45) scale(0.94 1) translate(-57.70 -609.80)">SK-N-AS</text>
<line x1="80.90" y1="600.40" x2="80.90" y2="602.60" stroke="#333" stroke-width="1.0"/>
<text x="83.10" y="609.80" font-size="6.81" text-anchor="end" font-weight="bold" fill="#000" stroke="#000" stroke-width="0.2" transform="translate(83.10 609.80) rotate(-45) scale(0.94 1) translate(-83.10 -609.80)">A549</text>
<line x1="106.10" y1="600.40" x2="106.10" y2="602.60" stroke="#333" stroke-width="1.0"/>
<text x="108.30" y="609.80" font-size="6.81" text-anchor="end" font-weight="bold" fill="#000" stroke="#000" stroke-width="0.2" transform="translate(108.30 609.80) rotate(-45) scale(0.94 1) translate(-108.30 -609.80)">HCT-15</text>
<line x1="131.50" y1="600.40" x2="131.50" y2="602.60" stroke="#333" stroke-width="1.0"/>
<text x="133.70" y="609.80" font-size="6.81" text-anchor="end" font-weight="bold" fill="#000" stroke="#000" stroke-width="0.2" transform="translate(133.70 609.80) rotate(-45) scale(0.94 1) translate(-133.70 -609.80)">SW1990</text>
<text x="97.00" y="513.60" font-size="7.39" text-anchor="middle" font-weight="bold" fill="#000" stroke="#000" stroke-width="0.1" transform="translate(97.00 513.60) scale(0.88 1) translate(-97.00 -513.60)">IFN<tspan font-weight="normal" font-family="Liberation Serif" stroke-width="0.3" font-size="8.13">γ</tspan></text>
<text x="22.80" y="561.10" font-size="5.9" text-anchor="middle" font-weight="bold" fill="#000" stroke="#000" stroke-width="0.18" transform="translate(22.80 561.10) rotate(-90) translate(-22.80 -561.10)">pg/mL</text>
<line x1="194.80" y1="525.10" x2="194.80" y2="601.70" stroke="#6e6e6e" stroke-width="1.2"/>
<line x1="193.00" y1="601.70" x2="195.30" y2="601.70" stroke="#6e6e6e" stroke-width="1.2"/>
<text x="190.70" y="603.97" font-size="7.16" text-anchor="end" font-weight="bold" fill="#000" stroke="#000" stroke-width="0.16" transform="translate(190.70 603.97) scale(0.88 1) translate(-190.70 -603.97)">0</text>
<line x1="193.00" y1="582.70" x2="195.30" y2="582.70" stroke="#6e6e6e" stroke-width="1.2"/>
<text x="190.70" y="584.97" font-size="7.16" text-anchor="end" font-weight="bold" fill="#000" stroke="#000" stroke-width="0.16" transform="translate(190.70 584.97) scale(0.88 1) translate(-190.70 -584.97)">100</text>
<line x1="193.00" y1="563.70" x2="195.30" y2="563.70" stroke="#6e6e6e" stroke-width="1.2"/>
<text x="190.70" y="565.97" font-size="7.16" text-anchor="end" font-weight="bold" fill="#000" stroke="#000" stroke-width="0.16" transform="translate(190.70 565.97) scale(0.88 1) translate(-190.70 -565.97)">200</text>
<line x1="193.00" y1="544.70" x2="195.30" y2="544.70" stroke="#6e6e6e" stroke-width="1.2"/>
<text x="190.70" y="546.97" font-size="7.16" text-anchor="end" font-weight="bold" fill="#000" stroke="#000" stroke-width="0.16" transform="translate(190.70 546.97) scale(0.88 1) translate(-190.70 -546.97)">300</text>
<line x1="193.00" y1="525.70" x2="195.30" y2="525.70" stroke="#6e6e6e" stroke-width="1.2"/>
<text x="190.70" y="527.97" font-size="7.16" text-anchor="end" font-weight="bold" fill="#000" stroke="#000" stroke-width="0.16" transform="translate(190.70 527.97) scale(0.88 1) translate(-190.70 -527.97)">400</text>
<path d="M200.90,601.70 q2.20,-3.2 4.40,0Z" fill="#0F600F"/>
<rect x="209.40" y="589.54" width="6.20" height="12.16" fill="#A40000"/>
<path d="M209.70,589.84 q2.80,-2.6 5.60,0Z" fill="#A40000"/>
<path d="M226.90,601.70 q2.20,-3.2 4.40,0Z" fill="#0F600F"/>
<rect x="235.40" y="564.08" width="6.20" height="37.62" fill="#A40000"/>
<path d="M235.70,564.38 q2.80,-2.6 5.60,0Z" fill="#A40000"/>
<path d="M252.90,601.70 q2.20,-3.2 4.40,0Z" fill="#0F600F"/>
<rect x="261.40" y="583.27" width="6.20" height="18.43" fill="#A40000"/>
<path d="M261.70,583.57 q2.80,-2.6 5.60,0Z" fill="#A40000"/>
<path d="M278.90,601.70 q2.20,-3.2 4.40,0Z" fill="#0F600F"/>
<rect x="287.40" y="534.44" width="6.20" height="67.26" fill="#A40000"/>
<path d="M287.70,534.74 q2.80,-2.6 5.60,0Z" fill="#A40000"/>
<line x1="290.50" y1="534.44" x2="290.50" y2="531.24" stroke="#A40000" stroke-width="1.0"/>
<line x1="289.00" y1="531.24" x2="292.00" y2="531.24" stroke="#A40000" stroke-width="1.0"/>
<line x1="194.30" y1="601.70" x2="299.30" y2="601.70" stroke="#4a4a4a" stroke-width="1.2"/>
<line x1="202.00" y1="587.00" x2="213.40" y2="587.00" stroke="#333" stroke-width="1.1"/>
<text x="207.70" y="588.10" font-size="6.82" text-anchor="middle" font-weight="bold" fill="#111" transform="translate(207.70 588.10) scale(0.88 1) translate(-207.70 -588.10)">****</text>
<line x1="228.40" y1="561.40" x2="239.60" y2="561.40" stroke="#333" stroke-width="1.1"/>
<text x="234.00" y="562.50" font-size="6.82" text-anchor="middle" font-weight="bold" fill="#111" transform="translate(234.00 562.50) scale(0.88 1) translate(-234.00 -562.50)">****</text>
<line x1="254.40" y1="581.00" x2="265.60" y2="581.00" stroke="#333" stroke-width="1.1"/>
<text x="260.00" y="582.10" font-size="6.82" text-anchor="middle" font-weight="bold" fill="#111" transform="translate(260.00 582.10) scale(0.88 1) translate(-260.00 -582.10)">****</text>
<line x1="280.40" y1="530.00" x2="291.60" y2="530.00" stroke="#333" stroke-width="1.1"/>
<text x="286.00" y="531.10" font-size="6.82" text-anchor="middle" font-weight="bold" fill="#111" transform="translate(286.00 531.10) scale(0.88 1) translate(-286.00 -531.10)">****</text>
<line x1="207.60" y1="601.70" x2="207.60" y2="603.90" stroke="#333" stroke-width="1.0"/>
<text x="209.80" y="611.00" font-size="6.81" text-anchor="end" font-weight="bold" fill="#000" stroke="#000" stroke-width="0.2" transform="translate(209.80 611.00) rotate(-45) scale(0.94 1) translate(-209.80 -611.00)">SK-N-AS</text>
<line x1="233.60" y1="601.70" x2="233.60" y2="603.90" stroke="#333" stroke-width="1.0"/>
<text x="235.80" y="611.00" font-size="6.81" text-anchor="end" font-weight="bold" fill="#000" stroke="#000" stroke-width="0.2" transform="translate(235.80 611.00) rotate(-45) scale(0.94 1) translate(-235.80 -611.00)">A549</text>
<line x1="259.60" y1="601.70" x2="259.60" y2="603.90" stroke="#333" stroke-width="1.0"/>
<text x="261.80" y="611.00" font-size="6.81" text-anchor="end" font-weight="bold" fill="#000" stroke="#000" stroke-width="0.2" transform="translate(261.80 611.00) rotate(-45) scale(0.94 1) translate(-261.80 -611.00)">HCT-15</text>
<line x1="285.60" y1="601.70" x2="285.60" y2="603.90" stroke="#333" stroke-width="1.0"/>
<text x="287.80" y="611.00" font-size="6.81" text-anchor="end" font-weight="bold" fill="#000" stroke="#000" stroke-width="0.2" transform="translate(287.80 611.00) rotate(-45) scale(0.94 1) translate(-287.80 -611.00)">SW1990</text>
<text x="250.30" y="513.80" font-size="7.39" text-anchor="middle" font-weight="bold" fill="#000" stroke="#000" stroke-width="0.1" transform="translate(250.30 513.80) scale(0.88 1) translate(-250.30 -513.80)">TNF<tspan font-weight="normal" font-family="Liberation Serif" stroke-width="0.3" font-size="8.13">α</tspan></text>
<text x="176.30" y="561.00" font-size="5.9" text-anchor="middle" font-weight="bold" fill="#000" stroke="#000" stroke-width="0.18" transform="translate(176.30 561.00) rotate(-90) translate(-176.30 -561.00)">pg/mL</text>
<line x1="344.60" y1="520.70" x2="344.60" y2="600.20" stroke="#6e6e6e" stroke-width="1.2"/>
<line x1="342.80" y1="600.20" x2="345.10" y2="600.20" stroke="#6e6e6e" stroke-width="1.2"/>
<text x="341.90" y="602.47" font-size="7.16" text-anchor="end" font-weight="bold" fill="#000" stroke="#000" stroke-width="0.16" transform="translate(341.90 602.47) scale(0.88 1) translate(-341.90 -602.47)">0</text>
<line x1="342.80" y1="573.90" x2="345.10" y2="573.90" stroke="#6e6e6e" stroke-width="1.2"/>
<text x="341.90" y="576.17" font-size="7.16" text-anchor="end" font-weight="bold" fill="#000" stroke="#000" stroke-width="0.16" transform="translate(341.90 576.17) scale(0.88 1) translate(-341.90 -576.17)">200</text>
<line x1="342.80" y1="547.60" x2="345.10" y2="547.60" stroke="#6e6e6e" stroke-width="1.2"/>
<text x="341.90" y="549.87" font-size="7.16" text-anchor="end" font-weight="bold" fill="#000" stroke="#000" stroke-width="0.16" transform="translate(341.90 549.87) scale(0.88 1) translate(-341.90 -549.87)">400</text>
<line x1="342.80" y1="521.30" x2="345.10" y2="521.30" stroke="#6e6e6e" stroke-width="1.2"/>
<text x="341.90" y="523.57" font-size="7.16" text-anchor="end" font-weight="bold" fill="#000" stroke="#000" stroke-width="0.16" transform="translate(341.90 523.57) scale(0.88 1) translate(-341.90 -523.57)">600</text>
<rect x="357.30" y="568.77" width="5.40" height="31.43" fill="#A40000"/>
<path d="M357.60,569.07 q2.40,-2.6 4.80,0Z" fill="#A40000"/>
<rect x="379.00" y="547.73" width="5.40" height="52.47" fill="#A40000"/>
<path d="M379.30,548.03 q2.40,-2.6 4.80,0Z" fill="#A40000"/>
<rect x="401.20" y="572.72" width="5.40" height="27.48" fill="#A40000"/>
<path d="M401.50,573.02 q2.40,-2.6 4.80,0Z" fill="#A40000"/>
<rect x="423.10" y="536.16" width="5.40" height="64.04" fill="#A40000"/>
<path d="M423.40,536.46 q2.40,-2.6 4.80,0Z" fill="#A40000"/>
<line x1="344.10" y1="600.20" x2="433.30" y2="600.20" stroke="#4a4a4a" stroke-width="1.2"/>
<line x1="350.60" y1="565.40" x2="361.20" y2="565.40" stroke="#333" stroke-width="1.1"/>
<text x="355.90" y="566.50" font-size="6.82" text-anchor="middle" font-weight="bold" fill="#111" transform="translate(355.90 566.50) scale(0.88 1) translate(-355.90 -566.50)">****</text>
<line x1="372.70" y1="545.20" x2="383.30" y2="545.20" stroke="#333" stroke-width="1.1"/>
<text x="378.00" y="546.30" font-size="6.82" text-anchor="middle" font-weight="bold" fill="#111" transform="translate(378.00 546.30) scale(0.88 1) translate(-378.00 -546.30)">****</text>
<line x1="394.80" y1="570.80" x2="404.80" y2="570.80" stroke="#333" stroke-width="1.1"/>
<text x="399.80" y="571.90" font-size="6.82" text-anchor="middle" font-weight="bold" fill="#111" transform="translate(399.80 571.90) scale(0.88 1) translate(-399.80 -571.90)">****</text>
<line x1="416.90" y1="534.20" x2="427.10" y2="534.20" stroke="#333" stroke-width="1.1"/>
<text x="422.00" y="535.30" font-size="6.82" text-anchor="middle" font-weight="bold" fill="#111" transform="translate(422.00 535.30) scale(0.88 1) translate(-422.00 -535.30)">****</text>
<line x1="355.80" y1="600.20" x2="355.80" y2="602.40" stroke="#333" stroke-width="1.0"/>
<text x="358.00" y="609.50" font-size="6.81" text-anchor="end" font-weight="bold" fill="#000" stroke="#000" stroke-width="0.2" transform="translate(358.00 609.50) rotate(-45) scale(0.94 1) translate(-358.00 -609.50)">SK-N-AS</text>
<line x1="377.90" y1="600.20" x2="377.90" y2="602.40" stroke="#333" stroke-width="1.0"/>
<text x="380.10" y="609.50" font-size="6.81" text-anchor="end" font-weight="bold" fill="#000" stroke="#000" stroke-width="0.2" transform="translate(380.10 609.50) rotate(-45) scale(0.94 1) translate(-380.10 -609.50)">A549</text>
<line x1="399.60" y1="600.20" x2="399.60" y2="602.40" stroke="#333" stroke-width="1.0"/>
<text x="401.80" y="609.50" font-size="6.81" text-anchor="end" font-weight="bold" fill="#000" stroke="#000" stroke-width="0.2" transform="translate(401.80 609.50) rotate(-45) scale(0.94 1) translate(-401.80 -609.50)">HCT-15</text>
<line x1="421.70" y1="600.20" x2="421.70" y2="602.40" stroke="#333" stroke-width="1.0"/>
<text x="423.90" y="609.50" font-size="6.81" text-anchor="end" font-weight="bold" fill="#000" stroke="#000" stroke-width="0.2" transform="translate(423.90 609.50) rotate(-45) scale(0.94 1) translate(-423.90 -609.50)">SW1990</text>
<text x="393.40" y="513.80" font-size="6.93" text-anchor="middle" font-weight="bold" fill="#000" stroke="#000" stroke-width="0.1" transform="translate(393.40 513.80) scale(0.88 1) translate(-393.40 -513.80)">IL2</text>
<text x="327.00" y="561.00" font-size="5.9" text-anchor="middle" font-weight="bold" fill="#000" stroke="#000" stroke-width="0.18" transform="translate(327.00 561.00) rotate(-90) translate(-327.00 -561.00)">pg/mL</text>
<rect x="437.90" y="528.70" width="7.10" height="3.90" fill="#0E5F0E"/>
<text x="448.50" y="532.40" font-size="5.91" text-anchor="start" font-weight="normal" fill="#111" stroke="#111" stroke-width="0.08" transform="translate(448.50 532.40) scale(0.88 1) translate(-448.50 -532.40)">Vδ1T</text>
<rect x="437.90" y="539.60" width="7.10" height="3.90" fill="#A30000"/>
<text x="448.50" y="543.30" font-size="5.91" text-anchor="start" font-weight="normal" fill="#111" stroke="#111" stroke-width="0.08" transform="translate(448.50 543.30) scale(0.88 1) translate(-448.50 -543.30)">AQ-CAR-IL2-Vδ1T</text>
</svg>
</body></html>
